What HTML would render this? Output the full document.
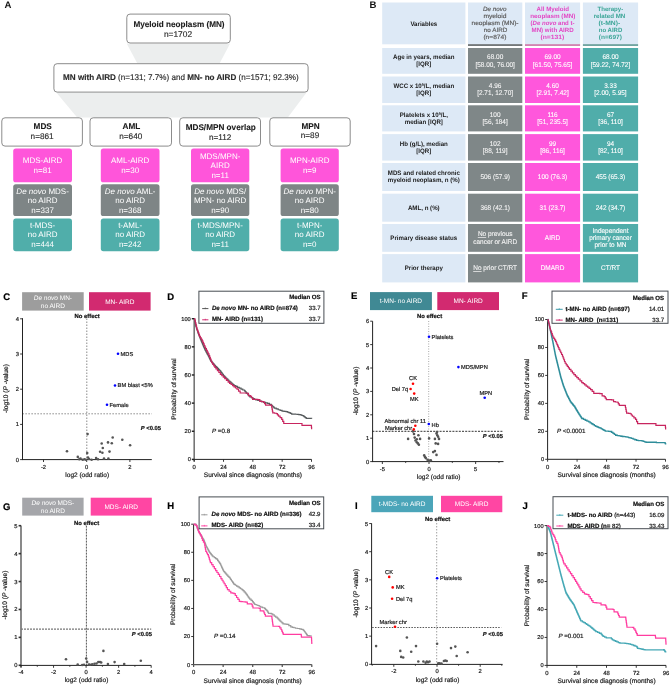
<!DOCTYPE html>
<html><head><meta charset="utf-8"><style>
html,body{margin:0;padding:0;background:#fff;}
body{width:670px;height:685px;overflow:hidden;position:relative;font-family:"Liberation Sans", sans-serif;}
svg{position:absolute;left:0;top:0;will-change:transform;}
svg text{font-family:"Liberation Sans", sans-serif;text-rendering:geometricPrecision;}
</style></head><body>
<svg width="670" height="685" viewBox="0 0 670 685">
<text x="4.40" y="7.50" font-size="9.6" text-anchor="start" font-weight="bold" font-style="normal" fill="#111" >A</text>
<polygon points="126.7,43.4 230.1,43.4 219.7,63.2 137.2,63.2" fill="#eceeee"/>
<polygon points="56.3,92.5 306.6,92.5 287.8,117.4 77.2,117.4" fill="#eceeee"/>
<rect x="126.80" y="14.10" width="103.50" height="28.90" rx="3.2" fill="#fff" stroke="#8c8c8c" stroke-width="1"/>
<text x="133.40" y="27.40" font-size="8.3" text-anchor="start" font-weight="bold" font-style="normal" fill="#1a1a1a" textLength="91.20" lengthAdjust="spacingAndGlyphs" stroke="#1a1a1a" stroke-width="0.1" >Myeloid neoplasm (MN)</text>
<text x="163.90" y="36.90" font-size="8.3" text-anchor="start" font-weight="normal" font-style="normal" fill="#2a2a2a" textLength="28.20" lengthAdjust="spacingAndGlyphs" stroke="#2a2a2a" stroke-width="0.15" >n=1702</text>
<rect x="53.90" y="63.70" width="254.20" height="28.40" rx="3.2" fill="#fff" stroke="#8c8c8c" stroke-width="1"/>
<text x="63.10" y="79.60" font-size="8.3" text-anchor="start" font-weight="normal" font-style="normal" fill="#2a2a2a" textLength="235.50" lengthAdjust="spacingAndGlyphs" stroke="#2a2a2a" stroke-width="0.15" ><tspan font-weight="bold">MN with AIRD</tspan> (n=131; 7.7%) and <tspan font-weight="bold">MN- no AIRD</tspan> (n=1571; 92.3%)</text>
<rect x="1.80" y="117.80" width="80.60" height="28.30" rx="3.2" fill="#fff" stroke="#8c8c8c" stroke-width="1"/>
<text x="42.70" y="128.70" font-size="8.2" text-anchor="middle" font-weight="bold" font-style="normal" fill="#1a1a1a" stroke="#1a1a1a" stroke-width="0.1" >MDS</text>
<text x="42.10" y="138.50" font-size="8.2" text-anchor="middle" font-weight="normal" font-style="normal" fill="#2a2a2a" stroke="#2a2a2a" stroke-width="0.15" >n=861</text>
<rect x="90.00" y="117.80" width="81.50" height="28.30" rx="3.2" fill="#fff" stroke="#8c8c8c" stroke-width="1"/>
<text x="131.35" y="129.30" font-size="8.2" text-anchor="middle" font-weight="bold" font-style="normal" fill="#1a1a1a" stroke="#1a1a1a" stroke-width="0.1" >AML</text>
<text x="130.75" y="139.20" font-size="8.2" text-anchor="middle" font-weight="normal" font-style="normal" fill="#2a2a2a" stroke="#2a2a2a" stroke-width="0.15" >n=640</text>
<rect x="179.70" y="117.80" width="80.80" height="28.30" rx="3.2" fill="#fff" stroke="#8c8c8c" stroke-width="1"/>
<text x="220.70" y="130.30" font-size="8.2" text-anchor="middle" font-weight="bold" font-style="normal" fill="#1a1a1a" stroke="#1a1a1a" stroke-width="0.1" >MDS/MPN overlap</text>
<text x="220.10" y="140.20" font-size="8.2" text-anchor="middle" font-weight="normal" font-style="normal" fill="#2a2a2a" stroke="#2a2a2a" stroke-width="0.15" >n=112</text>
<rect x="269.80" y="117.80" width="80.40" height="28.30" rx="3.2" fill="#fff" stroke="#8c8c8c" stroke-width="1"/>
<text x="310.60" y="128.70" font-size="8.2" text-anchor="middle" font-weight="bold" font-style="normal" fill="#1a1a1a" stroke="#1a1a1a" stroke-width="0.1" >MPN</text>
<text x="310.00" y="138.30" font-size="8.2" text-anchor="middle" font-weight="normal" font-style="normal" fill="#2a2a2a" stroke="#2a2a2a" stroke-width="0.15" >n=89</text>
<rect x="13.20" y="148.50" width="58.80" height="33.80" rx="2.6" fill="#ff55da"/>
<text x="42.60" y="163.30" font-size="8" text-anchor="middle" font-weight="normal" font-style="normal" fill="#fff" >MDS-AIRD</text>
<text x="42.60" y="173.00" font-size="8" text-anchor="middle" font-weight="normal" font-style="normal" fill="#fff" >n=81</text>
<rect x="13.20" y="184.20" width="58.80" height="31.90" rx="2.6" fill="#7e8586"/>
<text x="42.60" y="193.85" font-size="8" text-anchor="middle" font-weight="normal" font-style="normal" fill="#fff" ><tspan font-style="italic">De novo</tspan> MDS-</text>
<text x="42.60" y="203.30" font-size="8" text-anchor="middle" font-weight="normal" font-style="normal" fill="#fff" >no AIRD</text>
<text x="42.60" y="212.75" font-size="8" text-anchor="middle" font-weight="normal" font-style="normal" fill="#fff" >n=337</text>
<rect x="13.20" y="218.60" width="58.80" height="32.60" rx="2.6" fill="#50aeaa"/>
<text x="42.60" y="228.00" font-size="8" text-anchor="middle" font-weight="normal" font-style="normal" fill="#fff" >t-MDS-</text>
<text x="42.60" y="237.45" font-size="8" text-anchor="middle" font-weight="normal" font-style="normal" fill="#fff" >no AIRD</text>
<text x="42.60" y="246.90" font-size="8" text-anchor="middle" font-weight="normal" font-style="normal" fill="#fff" >n=444</text>
<rect x="100.80" y="148.50" width="58.70" height="33.80" rx="2.6" fill="#ff55da"/>
<text x="130.15" y="163.30" font-size="8" text-anchor="middle" font-weight="normal" font-style="normal" fill="#fff" >AML-AIRD</text>
<text x="130.15" y="173.00" font-size="8" text-anchor="middle" font-weight="normal" font-style="normal" fill="#fff" >n=30</text>
<rect x="100.80" y="184.20" width="58.70" height="31.90" rx="2.6" fill="#7e8586"/>
<text x="130.15" y="193.85" font-size="8" text-anchor="middle" font-weight="normal" font-style="normal" fill="#fff" ><tspan font-style="italic">De novo</tspan> AML-</text>
<text x="130.15" y="203.30" font-size="8" text-anchor="middle" font-weight="normal" font-style="normal" fill="#fff" >no AIRD</text>
<text x="130.15" y="212.75" font-size="8" text-anchor="middle" font-weight="normal" font-style="normal" fill="#fff" >n=368</text>
<rect x="100.80" y="218.60" width="58.70" height="32.60" rx="2.6" fill="#50aeaa"/>
<text x="130.15" y="228.00" font-size="8" text-anchor="middle" font-weight="normal" font-style="normal" fill="#fff" >t-AML-</text>
<text x="130.15" y="237.45" font-size="8" text-anchor="middle" font-weight="normal" font-style="normal" fill="#fff" >no AIRD</text>
<text x="130.15" y="246.90" font-size="8" text-anchor="middle" font-weight="normal" font-style="normal" fill="#fff" >n=242</text>
<rect x="191.00" y="148.50" width="58.30" height="33.80" rx="2.6" fill="#ff55da"/>
<text x="220.15" y="158.70" font-size="8" text-anchor="middle" font-weight="normal" font-style="normal" fill="#fff" >MDS/MPN-</text>
<text x="220.15" y="168.15" font-size="8" text-anchor="middle" font-weight="normal" font-style="normal" fill="#fff" >AIRD</text>
<text x="220.15" y="177.60" font-size="8" text-anchor="middle" font-weight="normal" font-style="normal" fill="#fff" >n=11</text>
<rect x="191.00" y="184.20" width="58.30" height="31.90" rx="2.6" fill="#7e8586"/>
<text x="220.15" y="193.85" font-size="8" text-anchor="middle" font-weight="normal" font-style="normal" fill="#fff" ><tspan font-style="italic">De novo</tspan> MDS/</text>
<text x="220.15" y="203.30" font-size="8" text-anchor="middle" font-weight="normal" font-style="normal" fill="#fff" >MPN- no AIRD</text>
<text x="220.15" y="212.75" font-size="8" text-anchor="middle" font-weight="normal" font-style="normal" fill="#fff" >n=90</text>
<rect x="191.00" y="218.60" width="58.30" height="32.60" rx="2.6" fill="#50aeaa"/>
<text x="220.15" y="228.00" font-size="8" text-anchor="middle" font-weight="normal" font-style="normal" fill="#fff" >t-MDS/MPN-</text>
<text x="220.15" y="237.45" font-size="8" text-anchor="middle" font-weight="normal" font-style="normal" fill="#fff" >no AIRD</text>
<text x="220.15" y="246.90" font-size="8" text-anchor="middle" font-weight="normal" font-style="normal" fill="#fff" >n=11</text>
<rect x="280.60" y="148.50" width="58.20" height="33.80" rx="2.6" fill="#ff55da"/>
<text x="309.70" y="163.30" font-size="8" text-anchor="middle" font-weight="normal" font-style="normal" fill="#fff" >MPN-AIRD</text>
<text x="309.70" y="173.00" font-size="8" text-anchor="middle" font-weight="normal" font-style="normal" fill="#fff" >n=9</text>
<rect x="280.60" y="184.20" width="58.20" height="31.90" rx="2.6" fill="#7e8586"/>
<text x="309.70" y="193.85" font-size="8" text-anchor="middle" font-weight="normal" font-style="normal" fill="#fff" ><tspan font-style="italic">De novo</tspan> MPN-</text>
<text x="309.70" y="203.30" font-size="8" text-anchor="middle" font-weight="normal" font-style="normal" fill="#fff" >no AIRD</text>
<text x="309.70" y="212.75" font-size="8" text-anchor="middle" font-weight="normal" font-style="normal" fill="#fff" >n=80</text>
<rect x="280.60" y="218.60" width="58.20" height="32.60" rx="2.6" fill="#50aeaa"/>
<text x="309.70" y="228.00" font-size="8" text-anchor="middle" font-weight="normal" font-style="normal" fill="#fff" >t-MPN-</text>
<text x="309.70" y="237.45" font-size="8" text-anchor="middle" font-weight="normal" font-style="normal" fill="#fff" >no AIRD</text>
<text x="309.70" y="246.90" font-size="8" text-anchor="middle" font-weight="normal" font-style="normal" fill="#fff" >n=0</text>
<text x="369.60" y="7.90" font-size="9.6" text-anchor="start" font-weight="bold" font-style="normal" fill="#111" >B</text>
<rect x="382.20" y="2.50" width="83.20" height="41.80" rx="0" fill="#dde9f6"/>
<rect x="468.00" y="2.50" width="54.30" height="41.80" rx="0" fill="#dde9f6"/>
<rect x="525.00" y="2.50" width="55.10" height="41.80" rx="0" fill="#dde9f6"/>
<rect x="582.90" y="2.50" width="55.20" height="41.80" rx="0" fill="#dde9f6"/>
<rect x="468.00" y="44.30" width="54.30" height="1.50" rx="0" fill="#52585a"/>
<rect x="525.00" y="44.30" width="55.10" height="1.50" rx="0" fill="#c6659f"/>
<rect x="582.90" y="44.30" width="55.20" height="1.50" rx="0" fill="#4f8f8a"/>
<text x="410.40" y="25.50" font-size="6.4" text-anchor="start" font-weight="bold" font-style="normal" fill="#1a1a1a" textLength="26.80" lengthAdjust="spacingAndGlyphs" >Variables</text>
<text x="483.00" y="10.60" font-size="6.1" text-anchor="start" font-weight="normal" font-style="normal" fill="#5e5e5e" textLength="23.50" lengthAdjust="spacingAndGlyphs" stroke="#5e5e5e" stroke-width="0.18" ><tspan font-style="italic">De novo</tspan></text>
<text x="483.40" y="17.75" font-size="6.1" text-anchor="start" font-weight="normal" font-style="normal" fill="#5e5e5e" textLength="23.10" lengthAdjust="spacingAndGlyphs" stroke="#5e5e5e" stroke-width="0.18" >myeloid</text>
<text x="471.50" y="24.90" font-size="6.1" text-anchor="start" font-weight="normal" font-style="normal" fill="#5e5e5e" textLength="47.00" lengthAdjust="spacingAndGlyphs" stroke="#5e5e5e" stroke-width="0.18" >neoplasm (MN)-</text>
<text x="483.80" y="32.05" font-size="6.1" text-anchor="start" font-weight="normal" font-style="normal" fill="#5e5e5e" textLength="23.50" lengthAdjust="spacingAndGlyphs" stroke="#5e5e5e" stroke-width="0.18" >no AIRD</text>
<text x="483.40" y="39.20" font-size="6.1" text-anchor="start" font-weight="normal" font-style="normal" fill="#5e5e5e" textLength="23.10" lengthAdjust="spacingAndGlyphs" stroke="#5e5e5e" stroke-width="0.18" >(n=874)</text>
<text x="536.60" y="10.60" font-size="6.1" text-anchor="start" font-weight="bold" font-style="normal" fill="#e345c4" textLength="32.40" lengthAdjust="spacingAndGlyphs" >All Myeloid</text>
<text x="530.20" y="17.75" font-size="6.1" text-anchor="start" font-weight="bold" font-style="normal" fill="#e345c4" textLength="45.20" lengthAdjust="spacingAndGlyphs" >neoplasm (MN)</text>
<text x="530.60" y="24.90" font-size="6.1" text-anchor="start" font-weight="bold" font-style="normal" fill="#e345c4" textLength="43.90" lengthAdjust="spacingAndGlyphs" >(<tspan font-style="italic">De novo</tspan> and t-</text>
<text x="531.50" y="32.05" font-size="6.1" text-anchor="start" font-weight="bold" font-style="normal" fill="#e345c4" textLength="42.20" lengthAdjust="spacingAndGlyphs" >MN) with AIRD</text>
<text x="540.40" y="39.20" font-size="6.1" text-anchor="start" font-weight="bold" font-style="normal" fill="#e345c4" textLength="23.90" lengthAdjust="spacingAndGlyphs" >(n=131)</text>
<text x="597.50" y="10.60" font-size="6.1" text-anchor="start" font-weight="bold" font-style="normal" fill="#3ba597" textLength="25.70" lengthAdjust="spacingAndGlyphs" >Therapy-</text>
<text x="593.70" y="17.75" font-size="6.1" text-anchor="start" font-weight="bold" font-style="normal" fill="#3ba597" textLength="31.60" lengthAdjust="spacingAndGlyphs" >related MN</text>
<text x="598.40" y="24.90" font-size="6.1" text-anchor="start" font-weight="bold" font-style="normal" fill="#3ba597" textLength="21.80" lengthAdjust="spacingAndGlyphs" >(t-MN)-</text>
<text x="598.80" y="32.05" font-size="6.1" text-anchor="start" font-weight="bold" font-style="normal" fill="#3ba597" textLength="23.50" lengthAdjust="spacingAndGlyphs" >no AIRD</text>
<text x="598.80" y="39.20" font-size="6.1" text-anchor="start" font-weight="bold" font-style="normal" fill="#3ba597" textLength="23.10" lengthAdjust="spacingAndGlyphs" >(n=697)</text>
<rect x="382.20" y="48.00" width="83.20" height="25.80" rx="0" fill="#dde9f6"/>
<rect x="468.00" y="48.00" width="54.30" height="25.80" rx="0" fill="#7f8788"/>
<rect x="525.00" y="48.00" width="55.10" height="25.80" rx="0" fill="#ff57dc"/>
<rect x="582.90" y="48.00" width="55.20" height="25.80" rx="0" fill="#50adaa"/>
<text x="423.80" y="59.30" font-size="6.4" text-anchor="middle" font-weight="bold" font-style="normal" fill="#1a1a1a" textLength="61.46" lengthAdjust="spacingAndGlyphs" >Age in years, median</text>
<text x="423.80" y="66.30" font-size="6.4" text-anchor="middle" font-weight="bold" font-style="normal" fill="#1a1a1a" textLength="15.02" lengthAdjust="spacingAndGlyphs" >[IQR]</text>
<text x="495.15" y="59.24" font-size="6.8" text-anchor="middle" font-weight="normal" font-style="normal" fill="#f4f4f4" textLength="16.17" lengthAdjust="spacingAndGlyphs" stroke="#f4f4f4" stroke-width="0.1" >68.00</text>
<text x="495.15" y="66.64" font-size="6.8" text-anchor="middle" font-weight="normal" font-style="normal" fill="#f4f4f4" textLength="39.51" lengthAdjust="spacingAndGlyphs" stroke="#f4f4f4" stroke-width="0.1" >[58.00, 76.00]</text>
<text x="552.55" y="59.24" font-size="6.8" text-anchor="middle" font-weight="normal" font-style="normal" fill="#ffffff" textLength="16.17" lengthAdjust="spacingAndGlyphs" stroke="#ffffff" stroke-width="0.1" >69.00</text>
<text x="552.55" y="66.64" font-size="6.8" text-anchor="middle" font-weight="normal" font-style="normal" fill="#ffffff" textLength="39.51" lengthAdjust="spacingAndGlyphs" stroke="#ffffff" stroke-width="0.1" >[61.50, 75.65]</text>
<text x="610.50" y="59.24" font-size="6.8" text-anchor="middle" font-weight="normal" font-style="normal" fill="#ffffff" textLength="16.17" lengthAdjust="spacingAndGlyphs" stroke="#ffffff" stroke-width="0.1" >68.00</text>
<text x="610.50" y="66.64" font-size="6.8" text-anchor="middle" font-weight="normal" font-style="normal" fill="#ffffff" textLength="39.51" lengthAdjust="spacingAndGlyphs" stroke="#ffffff" stroke-width="0.1" >[59.22, 74.72]</text>
<rect x="382.20" y="76.50" width="83.20" height="26.50" rx="0" fill="#dde9f6"/>
<rect x="468.00" y="76.50" width="54.30" height="26.50" rx="0" fill="#7f8788"/>
<rect x="525.00" y="76.50" width="55.10" height="26.50" rx="0" fill="#ff57dc"/>
<rect x="582.90" y="76.50" width="55.20" height="26.50" rx="0" fill="#50adaa"/>
<text x="423.80" y="88.15" font-size="6.4" text-anchor="middle" font-weight="bold" font-style="normal" fill="#1a1a1a" textLength="60.75" lengthAdjust="spacingAndGlyphs" >WCC x 10<tspan font-size="3.8" dy="-2.2">9</tspan><tspan dy="2.2">/L, median</tspan></text>
<text x="423.80" y="95.15" font-size="6.4" text-anchor="middle" font-weight="bold" font-style="normal" fill="#1a1a1a" textLength="15.02" lengthAdjust="spacingAndGlyphs" >[IQR]</text>
<text x="495.15" y="88.09" font-size="6.8" text-anchor="middle" font-weight="normal" font-style="normal" fill="#f4f4f4" textLength="12.57" lengthAdjust="spacingAndGlyphs" stroke="#f4f4f4" stroke-width="0.1" >4.96</text>
<text x="495.15" y="95.49" font-size="6.8" text-anchor="middle" font-weight="normal" font-style="normal" fill="#f4f4f4" textLength="35.92" lengthAdjust="spacingAndGlyphs" stroke="#f4f4f4" stroke-width="0.1" >[2.71, 12.70]</text>
<text x="552.55" y="88.09" font-size="6.8" text-anchor="middle" font-weight="normal" font-style="normal" fill="#ffffff" textLength="12.57" lengthAdjust="spacingAndGlyphs" stroke="#ffffff" stroke-width="0.1" >4.60</text>
<text x="552.55" y="95.49" font-size="6.8" text-anchor="middle" font-weight="normal" font-style="normal" fill="#ffffff" textLength="32.33" lengthAdjust="spacingAndGlyphs" stroke="#ffffff" stroke-width="0.1" >[2.91, 7.42]</text>
<text x="610.50" y="88.09" font-size="6.8" text-anchor="middle" font-weight="normal" font-style="normal" fill="#ffffff" textLength="12.57" lengthAdjust="spacingAndGlyphs" stroke="#ffffff" stroke-width="0.1" >3.33</text>
<text x="610.50" y="95.49" font-size="6.8" text-anchor="middle" font-weight="normal" font-style="normal" fill="#ffffff" textLength="32.33" lengthAdjust="spacingAndGlyphs" stroke="#ffffff" stroke-width="0.1" >[2.00, 5.95]</text>
<rect x="382.20" y="105.30" width="83.20" height="26.10" rx="0" fill="#dde9f6"/>
<rect x="468.00" y="105.30" width="54.30" height="26.10" rx="0" fill="#7f8788"/>
<rect x="525.00" y="105.30" width="55.10" height="26.10" rx="0" fill="#ff57dc"/>
<rect x="582.90" y="105.30" width="55.20" height="26.10" rx="0" fill="#50adaa"/>
<text x="423.80" y="116.75" font-size="6.4" text-anchor="middle" font-weight="bold" font-style="normal" fill="#1a1a1a" textLength="48.13" lengthAdjust="spacingAndGlyphs" >Platelets x 10<tspan font-size="3.8" dy="-2.2">9</tspan><tspan dy="2.2">/L,</tspan></text>
<text x="423.80" y="123.75" font-size="6.4" text-anchor="middle" font-weight="bold" font-style="normal" fill="#1a1a1a" textLength="38.23" lengthAdjust="spacingAndGlyphs" >median [IQR]</text>
<text x="495.15" y="116.69" font-size="6.8" text-anchor="middle" font-weight="normal" font-style="normal" fill="#f4f4f4" textLength="10.78" lengthAdjust="spacingAndGlyphs" stroke="#f4f4f4" stroke-width="0.1" >100</text>
<text x="495.15" y="124.09" font-size="6.8" text-anchor="middle" font-weight="normal" font-style="normal" fill="#f4f4f4" textLength="25.14" lengthAdjust="spacingAndGlyphs" stroke="#f4f4f4" stroke-width="0.1" >[56, 184]</text>
<text x="552.55" y="116.69" font-size="6.8" text-anchor="middle" font-weight="normal" font-style="normal" fill="#ffffff" textLength="10.30" lengthAdjust="spacingAndGlyphs" stroke="#ffffff" stroke-width="0.1" >116</text>
<text x="552.55" y="124.09" font-size="6.8" text-anchor="middle" font-weight="normal" font-style="normal" fill="#ffffff" textLength="30.53" lengthAdjust="spacingAndGlyphs" stroke="#ffffff" stroke-width="0.1" >[51, 235.5]</text>
<text x="610.50" y="116.69" font-size="6.8" text-anchor="middle" font-weight="normal" font-style="normal" fill="#ffffff" textLength="7.19" lengthAdjust="spacingAndGlyphs" stroke="#ffffff" stroke-width="0.1" >67</text>
<text x="610.50" y="124.09" font-size="6.8" text-anchor="middle" font-weight="normal" font-style="normal" fill="#ffffff" textLength="24.66" lengthAdjust="spacingAndGlyphs" stroke="#ffffff" stroke-width="0.1" >[36, 110]</text>
<rect x="382.20" y="134.10" width="83.20" height="26.50" rx="0" fill="#dde9f6"/>
<rect x="468.00" y="134.10" width="54.30" height="26.50" rx="0" fill="#7f8788"/>
<rect x="525.00" y="134.10" width="55.10" height="26.50" rx="0" fill="#ff57dc"/>
<rect x="582.90" y="134.10" width="55.20" height="26.50" rx="0" fill="#50adaa"/>
<text x="423.80" y="145.75" font-size="6.4" text-anchor="middle" font-weight="bold" font-style="normal" fill="#1a1a1a" textLength="48.13" lengthAdjust="spacingAndGlyphs" >Hb (g/L), median</text>
<text x="423.80" y="152.75" font-size="6.4" text-anchor="middle" font-weight="bold" font-style="normal" fill="#1a1a1a" textLength="15.02" lengthAdjust="spacingAndGlyphs" >[IQR]</text>
<text x="495.15" y="145.69" font-size="6.8" text-anchor="middle" font-weight="normal" font-style="normal" fill="#f4f4f4" textLength="10.78" lengthAdjust="spacingAndGlyphs" stroke="#f4f4f4" stroke-width="0.1" >102</text>
<text x="495.15" y="153.09" font-size="6.8" text-anchor="middle" font-weight="normal" font-style="normal" fill="#f4f4f4" textLength="24.66" lengthAdjust="spacingAndGlyphs" stroke="#f4f4f4" stroke-width="0.1" >[88, 119]</text>
<text x="552.55" y="145.69" font-size="6.8" text-anchor="middle" font-weight="normal" font-style="normal" fill="#ffffff" textLength="7.19" lengthAdjust="spacingAndGlyphs" stroke="#ffffff" stroke-width="0.1" >99</text>
<text x="552.55" y="153.09" font-size="6.8" text-anchor="middle" font-weight="normal" font-style="normal" fill="#ffffff" textLength="24.66" lengthAdjust="spacingAndGlyphs" stroke="#ffffff" stroke-width="0.1" >[86, 116]</text>
<text x="610.50" y="145.69" font-size="6.8" text-anchor="middle" font-weight="normal" font-style="normal" fill="#ffffff" textLength="7.19" lengthAdjust="spacingAndGlyphs" stroke="#ffffff" stroke-width="0.1" >94</text>
<text x="610.50" y="153.09" font-size="6.8" text-anchor="middle" font-weight="normal" font-style="normal" fill="#ffffff" textLength="24.66" lengthAdjust="spacingAndGlyphs" stroke="#ffffff" stroke-width="0.1" >[82, 110]</text>
<rect x="382.20" y="163.00" width="83.20" height="28.00" rx="0" fill="#dde9f6"/>
<rect x="468.00" y="163.00" width="54.30" height="28.00" rx="0" fill="#7f8788"/>
<rect x="525.00" y="163.00" width="55.10" height="28.00" rx="0" fill="#ff57dc"/>
<rect x="582.90" y="163.00" width="55.20" height="28.00" rx="0" fill="#50adaa"/>
<text x="423.80" y="175.40" font-size="6.4" text-anchor="middle" font-weight="bold" font-style="normal" fill="#1a1a1a" textLength="72.04" lengthAdjust="spacingAndGlyphs" >MDS and related chronic</text>
<text x="423.80" y="182.40" font-size="6.4" text-anchor="middle" font-weight="bold" font-style="normal" fill="#1a1a1a" textLength="72.03" lengthAdjust="spacingAndGlyphs" >myeloid neoplasm, n (%)</text>
<text x="495.15" y="179.04" font-size="6.8" text-anchor="middle" font-weight="normal" font-style="normal" fill="#f4f4f4" textLength="29.45" lengthAdjust="spacingAndGlyphs" stroke="#f4f4f4" stroke-width="0.1" >506 (57.9)</text>
<text x="552.55" y="179.04" font-size="6.8" text-anchor="middle" font-weight="normal" font-style="normal" fill="#ffffff" textLength="29.45" lengthAdjust="spacingAndGlyphs" stroke="#ffffff" stroke-width="0.1" >100 (76.3)</text>
<text x="610.50" y="179.04" font-size="6.8" text-anchor="middle" font-weight="normal" font-style="normal" fill="#ffffff" textLength="29.45" lengthAdjust="spacingAndGlyphs" stroke="#ffffff" stroke-width="0.1" >455 (65.3)</text>
<rect x="382.20" y="193.70" width="83.20" height="28.00" rx="0" fill="#dde9f6"/>
<rect x="468.00" y="193.70" width="54.30" height="28.00" rx="0" fill="#7f8788"/>
<rect x="525.00" y="193.70" width="55.10" height="28.00" rx="0" fill="#ff57dc"/>
<rect x="582.90" y="193.70" width="55.20" height="28.00" rx="0" fill="#50adaa"/>
<text x="423.80" y="209.60" font-size="6.4" text-anchor="middle" font-weight="bold" font-style="normal" fill="#1a1a1a" textLength="31.74" lengthAdjust="spacingAndGlyphs" >AML, n (%)</text>
<text x="495.15" y="209.74" font-size="6.8" text-anchor="middle" font-weight="normal" font-style="normal" fill="#f4f4f4" textLength="29.45" lengthAdjust="spacingAndGlyphs" stroke="#f4f4f4" stroke-width="0.1" >368 (42.1)</text>
<text x="552.55" y="209.74" font-size="6.8" text-anchor="middle" font-weight="normal" font-style="normal" fill="#ffffff" textLength="25.86" lengthAdjust="spacingAndGlyphs" stroke="#ffffff" stroke-width="0.1" >31 (23.7)</text>
<text x="610.50" y="209.74" font-size="6.8" text-anchor="middle" font-weight="normal" font-style="normal" fill="#ffffff" textLength="29.45" lengthAdjust="spacingAndGlyphs" stroke="#ffffff" stroke-width="0.1" >242 (34.7)</text>
<rect x="382.20" y="224.00" width="83.20" height="27.80" rx="0" fill="#dde9f6"/>
<rect x="468.00" y="224.00" width="54.30" height="27.80" rx="0" fill="#7f8788"/>
<rect x="525.00" y="224.00" width="55.10" height="27.80" rx="0" fill="#ff57dc"/>
<rect x="582.90" y="224.00" width="55.20" height="27.80" rx="0" fill="#50adaa"/>
<text x="423.80" y="239.80" font-size="6.4" text-anchor="middle" font-weight="bold" font-style="normal" fill="#1a1a1a" textLength="66.94" lengthAdjust="spacingAndGlyphs" >Primary disease status</text>
<text x="495.15" y="236.24" font-size="6.8" text-anchor="middle" font-weight="normal" font-style="normal" fill="#f4f4f4" textLength="34.47" lengthAdjust="spacingAndGlyphs" stroke="#f4f4f4" stroke-width="0.1" ><tspan text-decoration="underline">No</tspan> previous</text>
<text x="495.15" y="243.64" font-size="6.8" text-anchor="middle" font-weight="normal" font-style="normal" fill="#f4f4f4" textLength="43.80" lengthAdjust="spacingAndGlyphs" stroke="#f4f4f4" stroke-width="0.1" >cancer or AIRD</text>
<text x="552.55" y="239.94" font-size="6.8" text-anchor="middle" font-weight="normal" font-style="normal" fill="#ffffff" textLength="15.43" lengthAdjust="spacingAndGlyphs" stroke="#ffffff" stroke-width="0.1" >AIRD</text>
<text x="610.50" y="232.84" font-size="6.8" text-anchor="middle" font-weight="normal" font-style="normal" fill="#ffffff" textLength="35.93" lengthAdjust="spacingAndGlyphs" stroke="#ffffff" stroke-width="0.1" >Independent</text>
<text x="610.50" y="239.94" font-size="6.8" text-anchor="middle" font-weight="normal" font-style="normal" fill="#ffffff" textLength="42.72" lengthAdjust="spacingAndGlyphs" stroke="#ffffff" stroke-width="0.1" >primary cancer</text>
<text x="610.50" y="247.04" font-size="6.8" text-anchor="middle" font-weight="normal" font-style="normal" fill="#ffffff" textLength="31.95" lengthAdjust="spacingAndGlyphs" stroke="#ffffff" stroke-width="0.1" >prior to MN</text>
<rect x="382.20" y="254.10" width="83.20" height="28.30" rx="0" fill="#dde9f6"/>
<rect x="468.00" y="254.10" width="54.30" height="28.30" rx="0" fill="#7f8788"/>
<rect x="525.00" y="254.10" width="55.10" height="28.30" rx="0" fill="#ff57dc"/>
<rect x="582.90" y="254.10" width="55.20" height="28.30" rx="0" fill="#50adaa"/>
<text x="423.80" y="270.15" font-size="6.4" text-anchor="middle" font-weight="bold" font-style="normal" fill="#1a1a1a" textLength="38.24" lengthAdjust="spacingAndGlyphs" >Prior therapy</text>
<text x="495.15" y="270.29" font-size="6.8" text-anchor="middle" font-weight="normal" font-style="normal" fill="#f4f4f4" textLength="43.67" lengthAdjust="spacingAndGlyphs" stroke="#f4f4f4" stroke-width="0.1" ><tspan text-decoration="underline">No</tspan> prior CT/RT</text>
<text x="552.55" y="270.29" font-size="6.8" text-anchor="middle" font-weight="normal" font-style="normal" fill="#ffffff" textLength="23.69" lengthAdjust="spacingAndGlyphs" stroke="#ffffff" stroke-width="0.1" >DMARD</text>
<text x="610.50" y="270.29" font-size="6.8" text-anchor="middle" font-weight="normal" font-style="normal" fill="#ffffff" textLength="18.90" lengthAdjust="spacingAndGlyphs" stroke="#ffffff" stroke-width="0.1" >CT/RT</text>
<text x="3.20" y="299.67" font-size="9.5" text-anchor="start" font-weight="bold" font-style="normal" fill="#000" stroke="#000" stroke-width="0.2" >C</text>
<rect x="22.10" y="292.20" width="61.60" height="18.40" rx="0" fill="#9d9d9d"/>
<text x="52.90" y="299.69" font-size="6.5" text-anchor="middle" font-weight="normal" font-style="normal" fill="#fff" ><tspan font-style="italic">De novo</tspan> MN-</text>
<text x="52.90" y="307.59" font-size="6.5" text-anchor="middle" font-weight="normal" font-style="normal" fill="#fff" >no AIRD</text>
<rect x="89.00" y="292.20" width="61.60" height="18.40" rx="0" fill="#d22a70"/>
<text x="119.80" y="303.64" font-size="6.5" text-anchor="middle" font-weight="normal" font-style="normal" fill="#fff" >MN- AIRD</text>
<text x="87.20" y="317.83" font-size="5.9" text-anchor="middle" font-weight="bold" font-style="normal" fill="#111" stroke="#111" stroke-width="0.2" >No effect</text>
<line x1="86.80" y1="318.50" x2="86.80" y2="459.70" stroke="#8a8a8a" stroke-width="1" stroke-dasharray="1.5,1.5"/>
<line x1="22.40" y1="413.80" x2="151.80" y2="413.80" stroke="#8a8a8a" stroke-width="1" stroke-dasharray="1.5,1.5"/>
<line x1="22.50" y1="318.20" x2="22.50" y2="460.00" stroke="#222" stroke-width="1"/>
<line x1="20.10" y1="459.60" x2="22.50" y2="459.60" stroke="#222" stroke-width="0.9"/>
<text x="19.10" y="461.60" font-size="5.8" text-anchor="end" font-weight="normal" font-style="normal" fill="#222" stroke="#222" stroke-width="0.2" >0</text>
<line x1="20.10" y1="424.40" x2="22.50" y2="424.40" stroke="#222" stroke-width="0.9"/>
<text x="19.10" y="426.40" font-size="5.8" text-anchor="end" font-weight="normal" font-style="normal" fill="#222" stroke="#222" stroke-width="0.2" >1</text>
<line x1="20.10" y1="389.20" x2="22.50" y2="389.20" stroke="#222" stroke-width="0.9"/>
<text x="19.10" y="391.20" font-size="5.8" text-anchor="end" font-weight="normal" font-style="normal" fill="#222" stroke="#222" stroke-width="0.2" >2</text>
<line x1="20.10" y1="354.00" x2="22.50" y2="354.00" stroke="#222" stroke-width="0.9"/>
<text x="19.10" y="356.00" font-size="5.8" text-anchor="end" font-weight="normal" font-style="normal" fill="#222" stroke="#222" stroke-width="0.2" >3</text>
<line x1="20.10" y1="318.80" x2="22.50" y2="318.80" stroke="#222" stroke-width="0.9"/>
<text x="19.10" y="320.80" font-size="5.8" text-anchor="end" font-weight="normal" font-style="normal" fill="#222" stroke="#222" stroke-width="0.2" >4</text>
<line x1="22.00" y1="459.60" x2="151.80" y2="459.60" stroke="#222" stroke-width="1"/>
<line x1="43.50" y1="459.60" x2="43.50" y2="462.00" stroke="#222" stroke-width="0.9"/>
<text x="43.50" y="468.90" font-size="5.8" text-anchor="middle" font-weight="normal" font-style="normal" fill="#222" stroke="#222" stroke-width="0.2" >-2</text>
<line x1="86.70" y1="459.60" x2="86.70" y2="462.00" stroke="#222" stroke-width="0.9"/>
<text x="86.70" y="468.90" font-size="5.8" text-anchor="middle" font-weight="normal" font-style="normal" fill="#222" stroke="#222" stroke-width="0.2" >0</text>
<line x1="129.90" y1="459.60" x2="129.90" y2="462.00" stroke="#222" stroke-width="0.9"/>
<text x="129.90" y="468.90" font-size="5.8" text-anchor="middle" font-weight="normal" font-style="normal" fill="#222" stroke="#222" stroke-width="0.2" >2</text>
<text x="87.20" y="476.84" font-size="6.5" text-anchor="middle" font-weight="normal" font-style="normal" fill="#222" stroke="#222" stroke-width="0.2" >log2 (odd ratio)</text>
<text x="5.75" y="390.81" font-size="6.6" text-anchor="middle" fill="#222" stroke="#222" stroke-width="0.2" transform="rotate(-90 5.75 388.50)">-log10 (<tspan font-style="italic">P</tspan> -value)</text>
<text x="161.00" y="430.40" font-size="5.8" text-anchor="end" font-weight="bold" font-style="normal" fill="#111" stroke="#111" stroke-width="0.2" ><tspan font-style="italic">P</tspan> &lt;0.05</text>
<circle cx="67.00" cy="451.30" r="1.3" fill="#555555"/>
<circle cx="87.60" cy="434.10" r="1.3" fill="#555555"/>
<circle cx="112.70" cy="437.50" r="1.3" fill="#555555"/>
<circle cx="122.30" cy="439.70" r="1.3" fill="#555555"/>
<circle cx="130.10" cy="445.30" r="1.3" fill="#555555"/>
<circle cx="101.70" cy="443.50" r="1.3" fill="#555555"/>
<circle cx="108.00" cy="442.40" r="1.3" fill="#555555"/>
<circle cx="111.80" cy="443.30" r="1.3" fill="#555555"/>
<circle cx="102.80" cy="448.00" r="1.3" fill="#555555"/>
<circle cx="100.10" cy="451.80" r="1.3" fill="#555555"/>
<circle cx="102.40" cy="452.70" r="1.3" fill="#555555"/>
<circle cx="109.50" cy="451.60" r="1.3" fill="#555555"/>
<circle cx="87.20" cy="453.10" r="1.3" fill="#555555"/>
<circle cx="77.80" cy="456.90" r="1.3" fill="#555555"/>
<circle cx="79.30" cy="459.20" r="1.3" fill="#555555"/>
<circle cx="82.70" cy="459.80" r="1.3" fill="#555555"/>
<circle cx="86.00" cy="459.80" r="1.3" fill="#555555"/>
<circle cx="91.60" cy="459.80" r="1.3" fill="#555555"/>
<circle cx="96.10" cy="458.00" r="1.3" fill="#555555"/>
<circle cx="104.00" cy="458.50" r="1.3" fill="#555555"/>
<circle cx="108.40" cy="458.50" r="1.3" fill="#555555"/>
<circle cx="84.50" cy="459.20" r="1.3" fill="#555555"/>
<circle cx="89.00" cy="459.00" r="1.3" fill="#555555"/>
<circle cx="98.00" cy="459.20" r="1.3" fill="#555555"/>
<circle cx="88.00" cy="457.50" r="1.3" fill="#555555"/>
<circle cx="80.50" cy="458.50" r="1.3" fill="#555555"/>
<circle cx="118.00" cy="353.70" r="1.3" fill="#0000ff"/>
<text x="120.60" y="355.66" font-size="5.7" text-anchor="start" font-weight="normal" font-style="normal" fill="#222" stroke="#222" stroke-width="0.2" >MDS</text>
<circle cx="115.00" cy="385.50" r="1.3" fill="#0000ff"/>
<text x="117.60" y="387.46" font-size="5.7" text-anchor="start" font-weight="normal" font-style="normal" fill="#222" stroke="#222" stroke-width="0.2" >BM blast &lt;5%</text>
<circle cx="107.00" cy="404.80" r="1.3" fill="#0000ff"/>
<text x="109.60" y="406.76" font-size="5.7" text-anchor="start" font-weight="normal" font-style="normal" fill="#222" stroke="#222" stroke-width="0.2" >Female</text>
<text x="350.90" y="299.47" font-size="9.5" text-anchor="start" font-weight="bold" font-style="normal" fill="#000" stroke="#000" stroke-width="0.2" >E</text>
<rect x="370.00" y="292.10" width="61.90" height="18.00" rx="0" fill="#408994"/>
<text x="400.95" y="303.34" font-size="6.5" text-anchor="middle" font-weight="normal" font-style="normal" fill="#fff" >t-MN- no AIRD</text>
<rect x="437.30" y="292.10" width="61.70" height="18.00" rx="0" fill="#d22a70"/>
<text x="468.15" y="303.34" font-size="6.5" text-anchor="middle" font-weight="normal" font-style="normal" fill="#fff" >MN- AIRD</text>
<text x="429.50" y="318.03" font-size="5.9" text-anchor="middle" font-weight="bold" font-style="normal" fill="#111" stroke="#111" stroke-width="0.2" >No effect</text>
<line x1="428.70" y1="321.00" x2="428.70" y2="461.60" stroke="#a0a0a0" stroke-width="0.9" stroke-dasharray="1,1.5"/>
<line x1="372.40" y1="431.30" x2="503.50" y2="431.30" stroke="#333" stroke-width="1" stroke-dasharray="2,1.2"/>
<line x1="372.60" y1="321.20" x2="372.60" y2="462.00" stroke="#222" stroke-width="1"/>
<line x1="370.20" y1="461.60" x2="372.60" y2="461.60" stroke="#222" stroke-width="0.9"/>
<text x="369.20" y="463.60" font-size="5.8" text-anchor="end" font-weight="normal" font-style="normal" fill="#222" stroke="#222" stroke-width="0.2" >0</text>
<line x1="370.20" y1="438.20" x2="372.60" y2="438.20" stroke="#222" stroke-width="0.9"/>
<text x="369.20" y="440.20" font-size="5.8" text-anchor="end" font-weight="normal" font-style="normal" fill="#222" stroke="#222" stroke-width="0.2" >1</text>
<line x1="370.20" y1="414.80" x2="372.60" y2="414.80" stroke="#222" stroke-width="0.9"/>
<text x="369.20" y="416.80" font-size="5.8" text-anchor="end" font-weight="normal" font-style="normal" fill="#222" stroke="#222" stroke-width="0.2" >2</text>
<line x1="370.20" y1="391.40" x2="372.60" y2="391.40" stroke="#222" stroke-width="0.9"/>
<text x="369.20" y="393.40" font-size="5.8" text-anchor="end" font-weight="normal" font-style="normal" fill="#222" stroke="#222" stroke-width="0.2" >3</text>
<line x1="370.20" y1="368.00" x2="372.60" y2="368.00" stroke="#222" stroke-width="0.9"/>
<text x="369.20" y="370.00" font-size="5.8" text-anchor="end" font-weight="normal" font-style="normal" fill="#222" stroke="#222" stroke-width="0.2" >4</text>
<line x1="370.20" y1="344.60" x2="372.60" y2="344.60" stroke="#222" stroke-width="0.9"/>
<text x="369.20" y="346.60" font-size="5.8" text-anchor="end" font-weight="normal" font-style="normal" fill="#222" stroke="#222" stroke-width="0.2" >5</text>
<line x1="370.20" y1="321.20" x2="372.60" y2="321.20" stroke="#222" stroke-width="0.9"/>
<text x="369.20" y="323.20" font-size="5.8" text-anchor="end" font-weight="normal" font-style="normal" fill="#222" stroke="#222" stroke-width="0.2" >6</text>
<line x1="372.10" y1="461.60" x2="503.50" y2="461.60" stroke="#222" stroke-width="1"/>
<line x1="382.35" y1="461.60" x2="382.35" y2="464.00" stroke="#222" stroke-width="0.9"/>
<text x="382.35" y="470.90" font-size="5.8" text-anchor="middle" font-weight="normal" font-style="normal" fill="#222" stroke="#222" stroke-width="0.2" >-5</text>
<line x1="429.00" y1="461.60" x2="429.00" y2="464.00" stroke="#222" stroke-width="0.9"/>
<text x="429.00" y="470.90" font-size="5.8" text-anchor="middle" font-weight="normal" font-style="normal" fill="#222" stroke="#222" stroke-width="0.2" >0</text>
<line x1="475.65" y1="461.60" x2="475.65" y2="464.00" stroke="#222" stroke-width="0.9"/>
<text x="475.65" y="470.90" font-size="5.8" text-anchor="middle" font-weight="normal" font-style="normal" fill="#222" stroke="#222" stroke-width="0.2" >5</text>
<line x1="405.68" y1="461.60" x2="405.68" y2="463.04" stroke="#222" stroke-width="0.8"/>
<line x1="452.32" y1="461.60" x2="452.32" y2="463.04" stroke="#222" stroke-width="0.8"/>
<line x1="498.98" y1="461.60" x2="498.98" y2="463.04" stroke="#222" stroke-width="0.8"/>
<text x="438.60" y="479.04" font-size="6.5" text-anchor="middle" font-weight="normal" font-style="normal" fill="#222" stroke="#222" stroke-width="0.2" >log2 (odd ratio)</text>
<text x="356.00" y="393.21" font-size="6.6" text-anchor="middle" fill="#222" stroke="#222" stroke-width="0.2" transform="rotate(-90 356.00 390.90)">-log10 (<tspan font-style="italic">P</tspan> -value)</text>
<text x="503.00" y="437.50" font-size="5.8" text-anchor="end" font-weight="bold" font-style="normal" fill="#111" stroke="#111" stroke-width="0.2" ><tspan font-style="italic">P</tspan> &lt;0.05</text>
<circle cx="413.00" cy="431.40" r="1.3" fill="#555555"/>
<circle cx="414.00" cy="434.00" r="1.3" fill="#555555"/>
<circle cx="418.40" cy="435.20" r="1.3" fill="#555555"/>
<circle cx="414.70" cy="437.60" r="1.3" fill="#555555"/>
<circle cx="416.80" cy="439.30" r="1.3" fill="#555555"/>
<circle cx="420.10" cy="438.90" r="1.3" fill="#555555"/>
<circle cx="408.10" cy="438.90" r="1.3" fill="#555555"/>
<circle cx="416.80" cy="442.20" r="1.3" fill="#555555"/>
<circle cx="417.90" cy="443.40" r="1.3" fill="#555555"/>
<circle cx="418.90" cy="444.70" r="1.3" fill="#555555"/>
<circle cx="429.10" cy="438.40" r="1.3" fill="#555555"/>
<circle cx="434.90" cy="438.90" r="1.3" fill="#555555"/>
<circle cx="436.50" cy="433.50" r="1.3" fill="#555555"/>
<circle cx="437.30" cy="435.20" r="1.3" fill="#555555"/>
<circle cx="438.10" cy="436.80" r="1.3" fill="#555555"/>
<circle cx="439.00" cy="438.90" r="1.3" fill="#555555"/>
<circle cx="435.70" cy="443.40" r="1.3" fill="#555555"/>
<circle cx="438.10" cy="443.90" r="1.3" fill="#555555"/>
<circle cx="433.20" cy="452.10" r="1.3" fill="#555555"/>
<circle cx="434.90" cy="451.10" r="1.3" fill="#555555"/>
<circle cx="436.50" cy="454.90" r="1.3" fill="#555555"/>
<circle cx="424.20" cy="455.40" r="1.3" fill="#555555"/>
<circle cx="425.00" cy="457.00" r="1.3" fill="#555555"/>
<circle cx="425.80" cy="458.10" r="1.3" fill="#555555"/>
<circle cx="427.50" cy="459.80" r="1.3" fill="#555555"/>
<circle cx="429.10" cy="460.60" r="1.3" fill="#555555"/>
<circle cx="430.80" cy="460.30" r="1.3" fill="#555555"/>
<circle cx="415.50" cy="440.50" r="1.3" fill="#555555"/>
<circle cx="437.00" cy="432.00" r="1.3" fill="#555555"/>
<circle cx="429.00" cy="336.80" r="1.3" fill="#0000ff"/>
<text x="431.60" y="338.76" font-size="5.7" text-anchor="start" font-weight="normal" font-style="normal" fill="#222" stroke="#222" stroke-width="0.2" >Platelets</text>
<circle cx="458.40" cy="367.10" r="1.3" fill="#0000ff"/>
<text x="460.90" y="369.06" font-size="5.7" text-anchor="start" font-weight="normal" font-style="normal" fill="#222" stroke="#222" stroke-width="0.2" >MDS/MPN</text>
<circle cx="484.70" cy="397.70" r="1.3" fill="#0000ff"/>
<text x="485.80" y="395.26" font-size="5.7" text-anchor="middle" font-weight="normal" font-style="normal" fill="#222" stroke="#222" stroke-width="0.2" >MPN</text>
<circle cx="428.80" cy="424.00" r="1.3" fill="#0000ff"/>
<text x="431.60" y="427.26" font-size="5.7" text-anchor="start" font-weight="normal" font-style="normal" fill="#222" stroke="#222" stroke-width="0.2" >Hb</text>
<circle cx="413.00" cy="383.80" r="1.3" fill="#ff0000"/>
<text x="413.00" y="380.26" font-size="5.7" text-anchor="middle" font-weight="normal" font-style="normal" fill="#222" stroke="#222" stroke-width="0.2" >CK</text>
<circle cx="410.60" cy="389.00" r="1.3" fill="#ff0000"/>
<text x="408.20" y="390.96" font-size="5.7" text-anchor="end" font-weight="normal" font-style="normal" fill="#222" stroke="#222" stroke-width="0.2" >Del 7q</text>
<circle cx="414.20" cy="393.60" r="1.3" fill="#ff0000"/>
<text x="414.20" y="400.76" font-size="5.7" text-anchor="middle" font-weight="normal" font-style="normal" fill="#222" stroke="#222" stroke-width="0.2" >MK</text>
<circle cx="415.30" cy="425.80" r="1.3" fill="#ff0000"/>
<text x="425.80" y="422.56" font-size="5.7" text-anchor="end" font-weight="normal" font-style="normal" fill="#222" stroke="#222" stroke-width="0.2" >Abnormal chr 11</text>
<circle cx="413.80" cy="429.40" r="1.3" fill="#ff0000"/>
<text x="412.20" y="430.06" font-size="5.7" text-anchor="end" font-weight="normal" font-style="normal" fill="#222" stroke="#222" stroke-width="0.2" >Marker chr</text>
<text x="3.00" y="509.57" font-size="9.5" text-anchor="start" font-weight="bold" font-style="normal" fill="#000" stroke="#000" stroke-width="0.2" >G</text>
<rect x="22.20" y="497.70" width="61.40" height="17.90" rx="0" fill="#a5a6aa"/>
<text x="52.90" y="504.94" font-size="6.5" text-anchor="middle" font-weight="normal" font-style="normal" fill="#fff" ><tspan font-style="italic">De novo</tspan> MDS-</text>
<text x="52.90" y="512.84" font-size="6.5" text-anchor="middle" font-weight="normal" font-style="normal" fill="#fff" >no AIRD</text>
<rect x="90.70" y="497.70" width="61.10" height="17.90" rx="0" fill="#ff46a3"/>
<text x="121.25" y="508.89" font-size="6.5" text-anchor="middle" font-weight="normal" font-style="normal" fill="#fff" >MDS- AIRD</text>
<text x="86.50" y="525.33" font-size="5.9" text-anchor="middle" font-weight="bold" font-style="normal" fill="#111" stroke="#111" stroke-width="0.2" >No effect</text>
<line x1="86.40" y1="525.60" x2="86.40" y2="665.20" stroke="#555" stroke-width="1" stroke-dasharray="2,1"/>
<line x1="21.00" y1="629.10" x2="151.20" y2="629.10" stroke="#555" stroke-width="1" stroke-dasharray="2,1"/>
<line x1="21.00" y1="525.60" x2="21.00" y2="667.20" stroke="#7d7d7d" stroke-width="1.8"/>
<line x1="18.60" y1="665.30" x2="21.00" y2="665.30" stroke="#333" stroke-width="1.62"/>
<text x="17.60" y="667.30" font-size="5.8" text-anchor="end" font-weight="normal" font-style="normal" fill="#222" stroke="#222" stroke-width="0.2" >0</text>
<line x1="18.60" y1="637.38" x2="21.00" y2="637.38" stroke="#333" stroke-width="1.62"/>
<text x="17.60" y="639.38" font-size="5.8" text-anchor="end" font-weight="normal" font-style="normal" fill="#222" stroke="#222" stroke-width="0.2" >1</text>
<line x1="18.60" y1="609.46" x2="21.00" y2="609.46" stroke="#333" stroke-width="1.62"/>
<text x="17.60" y="611.46" font-size="5.8" text-anchor="end" font-weight="normal" font-style="normal" fill="#222" stroke="#222" stroke-width="0.2" >2</text>
<line x1="18.60" y1="581.54" x2="21.00" y2="581.54" stroke="#333" stroke-width="1.62"/>
<text x="17.60" y="583.54" font-size="5.8" text-anchor="end" font-weight="normal" font-style="normal" fill="#222" stroke="#222" stroke-width="0.2" >3</text>
<line x1="18.60" y1="553.62" x2="21.00" y2="553.62" stroke="#333" stroke-width="1.62"/>
<text x="17.60" y="555.62" font-size="5.8" text-anchor="end" font-weight="normal" font-style="normal" fill="#222" stroke="#222" stroke-width="0.2" >4</text>
<line x1="18.60" y1="525.70" x2="21.00" y2="525.70" stroke="#333" stroke-width="1.62"/>
<text x="17.60" y="527.70" font-size="5.8" text-anchor="end" font-weight="normal" font-style="normal" fill="#222" stroke="#222" stroke-width="0.2" >5</text>
<line x1="20.10" y1="665.40" x2="151.20" y2="665.40" stroke="#222" stroke-width="1"/>
<line x1="21.02" y1="665.40" x2="21.02" y2="667.80" stroke="#222" stroke-width="0.9"/>
<text x="21.02" y="674.40" font-size="5.8" text-anchor="middle" font-weight="normal" font-style="normal" fill="#222" stroke="#222" stroke-width="0.2" >-4</text>
<line x1="53.56" y1="665.40" x2="53.56" y2="667.80" stroke="#222" stroke-width="0.9"/>
<text x="53.56" y="674.40" font-size="5.8" text-anchor="middle" font-weight="normal" font-style="normal" fill="#222" stroke="#222" stroke-width="0.2" >-2</text>
<line x1="86.10" y1="665.40" x2="86.10" y2="667.80" stroke="#222" stroke-width="0.9"/>
<text x="86.10" y="674.40" font-size="5.8" text-anchor="middle" font-weight="normal" font-style="normal" fill="#222" stroke="#222" stroke-width="0.2" >0</text>
<line x1="118.64" y1="665.40" x2="118.64" y2="667.80" stroke="#222" stroke-width="0.9"/>
<text x="118.64" y="674.40" font-size="5.8" text-anchor="middle" font-weight="normal" font-style="normal" fill="#222" stroke="#222" stroke-width="0.2" >2</text>
<line x1="151.18" y1="665.40" x2="151.18" y2="667.80" stroke="#222" stroke-width="0.9"/>
<text x="151.18" y="674.40" font-size="5.8" text-anchor="middle" font-weight="normal" font-style="normal" fill="#222" stroke="#222" stroke-width="0.2" >4</text>
<line x1="37.29" y1="665.40" x2="37.29" y2="666.84" stroke="#222" stroke-width="0.8"/>
<line x1="69.83" y1="665.40" x2="69.83" y2="666.84" stroke="#222" stroke-width="0.8"/>
<line x1="102.37" y1="665.40" x2="102.37" y2="666.84" stroke="#222" stroke-width="0.8"/>
<line x1="134.91" y1="665.40" x2="134.91" y2="666.84" stroke="#222" stroke-width="0.8"/>
<text x="86.50" y="682.24" font-size="6.5" text-anchor="middle" font-weight="normal" font-style="normal" fill="#222" stroke="#222" stroke-width="0.2" >log2 (odd ratio)</text>
<text x="4.50" y="597.31" font-size="6.6" text-anchor="middle" fill="#222" stroke="#222" stroke-width="0.2" transform="rotate(-90 4.50 595.00)">-log10 (<tspan font-style="italic">P</tspan> -value)</text>
<text x="152.00" y="635.60" font-size="5.8" text-anchor="end" font-weight="bold" font-style="normal" fill="#111" stroke="#111" stroke-width="0.2" ><tspan font-style="italic">P</tspan> &lt;0.05</text>
<circle cx="66.00" cy="659.20" r="1.3" fill="#555555"/>
<circle cx="103.40" cy="650.90" r="1.3" fill="#555555"/>
<circle cx="140.80" cy="660.70" r="1.3" fill="#555555"/>
<circle cx="114.60" cy="662.10" r="1.3" fill="#555555"/>
<circle cx="124.20" cy="664.10" r="1.3" fill="#555555"/>
<circle cx="86.20" cy="658.50" r="1.3" fill="#555555"/>
<circle cx="87.10" cy="661.90" r="1.3" fill="#555555"/>
<circle cx="98.30" cy="662.00" r="1.3" fill="#555555"/>
<circle cx="100.00" cy="662.00" r="1.3" fill="#555555"/>
<circle cx="101.20" cy="662.50" r="1.3" fill="#555555"/>
<circle cx="96.50" cy="663.50" r="1.3" fill="#555555"/>
<circle cx="77.70" cy="664.50" r="1.3" fill="#555555"/>
<circle cx="82.20" cy="665.00" r="1.3" fill="#555555"/>
<circle cx="88.90" cy="664.50" r="1.3" fill="#555555"/>
<circle cx="92.20" cy="664.20" r="1.3" fill="#555555"/>
<circle cx="94.50" cy="663.80" r="1.3" fill="#555555"/>
<circle cx="107.90" cy="664.00" r="1.3" fill="#555555"/>
<circle cx="84.00" cy="664.80" r="1.3" fill="#555555"/>
<circle cx="90.00" cy="664.80" r="1.3" fill="#555555"/>
<text x="355.00" y="508.67" font-size="9.5" text-anchor="start" font-weight="bold" font-style="normal" fill="#000" stroke="#000" stroke-width="0.2" >I</text>
<rect x="371.30" y="495.80" width="61.70" height="16.40" rx="0" fill="#4ba5b9"/>
<text x="402.15" y="506.24" font-size="6.5" text-anchor="middle" font-weight="normal" font-style="normal" fill="#fff" >t-MDS- no AIRD</text>
<rect x="441.00" y="495.80" width="61.30" height="16.40" rx="0" fill="#ff46a3"/>
<text x="471.65" y="506.24" font-size="6.5" text-anchor="middle" font-weight="normal" font-style="normal" fill="#fff" >MDS- AIRD</text>
<text x="437.70" y="520.63" font-size="5.9" text-anchor="middle" font-weight="bold" font-style="normal" fill="#111" stroke="#111" stroke-width="0.2" >No effect</text>
<line x1="436.70" y1="523.30" x2="436.70" y2="664.00" stroke="#777" stroke-width="1" stroke-dasharray="1,2"/>
<line x1="372.20" y1="627.50" x2="501.20" y2="627.50" stroke="#555" stroke-width="1" stroke-dasharray="1.5,1.3"/>
<line x1="371.60" y1="523.30" x2="371.60" y2="664.90" stroke="#222" stroke-width="1"/>
<line x1="369.20" y1="664.30" x2="371.60" y2="664.30" stroke="#222" stroke-width="0.9"/>
<text x="368.20" y="666.30" font-size="5.8" text-anchor="end" font-weight="normal" font-style="normal" fill="#222" stroke="#222" stroke-width="0.2" >0</text>
<line x1="369.20" y1="636.15" x2="371.60" y2="636.15" stroke="#222" stroke-width="0.9"/>
<text x="368.20" y="638.15" font-size="5.8" text-anchor="end" font-weight="normal" font-style="normal" fill="#222" stroke="#222" stroke-width="0.2" >1</text>
<line x1="369.20" y1="608.00" x2="371.60" y2="608.00" stroke="#222" stroke-width="0.9"/>
<text x="368.20" y="610.00" font-size="5.8" text-anchor="end" font-weight="normal" font-style="normal" fill="#222" stroke="#222" stroke-width="0.2" >2</text>
<line x1="369.20" y1="579.85" x2="371.60" y2="579.85" stroke="#222" stroke-width="0.9"/>
<text x="368.20" y="581.85" font-size="5.8" text-anchor="end" font-weight="normal" font-style="normal" fill="#222" stroke="#222" stroke-width="0.2" >3</text>
<line x1="369.20" y1="551.70" x2="371.60" y2="551.70" stroke="#222" stroke-width="0.9"/>
<text x="368.20" y="553.70" font-size="5.8" text-anchor="end" font-weight="normal" font-style="normal" fill="#222" stroke="#222" stroke-width="0.2" >4</text>
<line x1="369.20" y1="523.55" x2="371.60" y2="523.55" stroke="#222" stroke-width="0.9"/>
<text x="368.20" y="525.55" font-size="5.8" text-anchor="end" font-weight="normal" font-style="normal" fill="#222" stroke="#222" stroke-width="0.2" >5</text>
<line x1="371.10" y1="664.40" x2="502.60" y2="664.40" stroke="#222" stroke-width="1"/>
<line x1="393.80" y1="664.40" x2="393.80" y2="666.80" stroke="#222" stroke-width="0.9"/>
<text x="393.80" y="673.40" font-size="5.8" text-anchor="middle" font-weight="normal" font-style="normal" fill="#222" stroke="#222" stroke-width="0.2" >-2</text>
<line x1="437.00" y1="664.40" x2="437.00" y2="666.80" stroke="#222" stroke-width="0.9"/>
<text x="437.00" y="673.40" font-size="5.8" text-anchor="middle" font-weight="normal" font-style="normal" fill="#222" stroke="#222" stroke-width="0.2" >0</text>
<line x1="480.20" y1="664.40" x2="480.20" y2="666.80" stroke="#222" stroke-width="0.9"/>
<text x="480.20" y="673.40" font-size="5.8" text-anchor="middle" font-weight="normal" font-style="normal" fill="#222" stroke="#222" stroke-width="0.2" >2</text>
<line x1="372.20" y1="664.40" x2="372.20" y2="665.84" stroke="#222" stroke-width="0.8"/>
<line x1="415.40" y1="664.40" x2="415.40" y2="665.84" stroke="#222" stroke-width="0.8"/>
<line x1="458.60" y1="664.40" x2="458.60" y2="665.84" stroke="#222" stroke-width="0.8"/>
<line x1="501.80" y1="664.40" x2="501.80" y2="665.84" stroke="#222" stroke-width="0.8"/>
<text x="437.50" y="681.84" font-size="6.5" text-anchor="middle" font-weight="normal" font-style="normal" fill="#222" stroke="#222" stroke-width="0.2" >log2 (odd ratio)</text>
<text x="355.60" y="595.51" font-size="6.6" text-anchor="middle" fill="#222" stroke="#222" stroke-width="0.2" transform="rotate(-90 355.60 593.20)">-log10 (<tspan font-style="italic">P</tspan> -value)</text>
<text x="503.00" y="635.80" font-size="5.8" text-anchor="end" font-weight="bold" font-style="normal" fill="#111" stroke="#111" stroke-width="0.2" ><tspan font-style="italic">P</tspan> &lt;0.05</text>
<circle cx="376.10" cy="646.10" r="1.3" fill="#555555"/>
<circle cx="406.90" cy="637.50" r="1.3" fill="#555555"/>
<circle cx="416.00" cy="646.10" r="1.3" fill="#555555"/>
<circle cx="400.30" cy="650.90" r="1.3" fill="#555555"/>
<circle cx="411.20" cy="651.80" r="1.3" fill="#555555"/>
<circle cx="401.20" cy="656.90" r="1.3" fill="#555555"/>
<circle cx="403.20" cy="657.50" r="1.3" fill="#555555"/>
<circle cx="418.30" cy="661.50" r="1.3" fill="#555555"/>
<circle cx="423.40" cy="661.50" r="1.3" fill="#555555"/>
<circle cx="426.80" cy="661.50" r="1.3" fill="#555555"/>
<circle cx="428.00" cy="662.30" r="1.3" fill="#555555"/>
<circle cx="429.50" cy="661.50" r="1.3" fill="#555555"/>
<circle cx="437.10" cy="643.80" r="1.3" fill="#555555"/>
<circle cx="438.30" cy="663.20" r="1.3" fill="#555555"/>
<circle cx="439.60" cy="663.20" r="1.3" fill="#555555"/>
<circle cx="443.90" cy="661.00" r="1.3" fill="#555555"/>
<circle cx="445.30" cy="660.60" r="1.3" fill="#555555"/>
<circle cx="446.70" cy="661.00" r="1.3" fill="#555555"/>
<circle cx="451.00" cy="648.10" r="1.3" fill="#555555"/>
<circle cx="455.30" cy="646.60" r="1.3" fill="#555555"/>
<circle cx="456.70" cy="656.00" r="1.3" fill="#555555"/>
<circle cx="467.60" cy="652.30" r="1.3" fill="#555555"/>
<circle cx="425.60" cy="662.80" r="1.3" fill="#555555"/>
<circle cx="441.50" cy="663.60" r="1.3" fill="#555555"/>
<circle cx="389.20" cy="576.90" r="1.3" fill="#ff0000"/>
<text x="389.00" y="574.36" font-size="5.7" text-anchor="middle" font-weight="normal" font-style="normal" fill="#222" stroke="#222" stroke-width="0.2" >CK</text>
<circle cx="392.70" cy="587.40" r="1.3" fill="#ff0000"/>
<text x="396.00" y="589.36" font-size="5.7" text-anchor="start" font-weight="normal" font-style="normal" fill="#222" stroke="#222" stroke-width="0.2" >MK</text>
<circle cx="392.10" cy="598.80" r="1.3" fill="#ff0000"/>
<text x="396.00" y="600.76" font-size="5.7" text-anchor="start" font-weight="normal" font-style="normal" fill="#222" stroke="#222" stroke-width="0.2" >Del 7q</text>
<circle cx="395.00" cy="626.70" r="1.3" fill="#ff0000"/>
<text x="393.20" y="623.86" font-size="5.7" text-anchor="middle" font-weight="normal" font-style="normal" fill="#222" stroke="#222" stroke-width="0.2" >Marker chr</text>
<circle cx="437.10" cy="578.30" r="1.3" fill="#0000ff"/>
<text x="440.00" y="580.26" font-size="5.7" text-anchor="start" font-weight="normal" font-style="normal" fill="#222" stroke="#222" stroke-width="0.2" >Platelets</text>
<text x="167.20" y="299.77" font-size="9.5" text-anchor="start" font-weight="bold" font-style="normal" fill="#000" stroke="#000" stroke-width="0.2" >D</text>
<line x1="194.20" y1="318.70" x2="194.20" y2="461.60" stroke="#767676" stroke-width="1.6"/>
<line x1="191.80" y1="459.40" x2="194.20" y2="459.40" stroke="#222" stroke-width="1.4400000000000002"/>
<text x="190.80" y="461.36" font-size="5.7" text-anchor="end" font-weight="normal" font-style="normal" fill="#222" stroke="#222" stroke-width="0.2" >0</text>
<line x1="191.80" y1="431.26" x2="194.20" y2="431.26" stroke="#222" stroke-width="1.4400000000000002"/>
<text x="190.80" y="433.22" font-size="5.7" text-anchor="end" font-weight="normal" font-style="normal" fill="#222" stroke="#222" stroke-width="0.2" >20</text>
<line x1="191.80" y1="403.12" x2="194.20" y2="403.12" stroke="#222" stroke-width="1.4400000000000002"/>
<text x="190.80" y="405.08" font-size="5.7" text-anchor="end" font-weight="normal" font-style="normal" fill="#222" stroke="#222" stroke-width="0.2" >40</text>
<line x1="191.80" y1="374.98" x2="194.20" y2="374.98" stroke="#222" stroke-width="1.4400000000000002"/>
<text x="190.80" y="376.94" font-size="5.7" text-anchor="end" font-weight="normal" font-style="normal" fill="#222" stroke="#222" stroke-width="0.2" >60</text>
<line x1="191.80" y1="346.84" x2="194.20" y2="346.84" stroke="#222" stroke-width="1.4400000000000002"/>
<text x="190.80" y="348.80" font-size="5.7" text-anchor="end" font-weight="normal" font-style="normal" fill="#222" stroke="#222" stroke-width="0.2" >80</text>
<line x1="191.80" y1="318.70" x2="194.20" y2="318.70" stroke="#222" stroke-width="1.4400000000000002"/>
<text x="190.80" y="320.66" font-size="5.7" text-anchor="end" font-weight="normal" font-style="normal" fill="#222" stroke="#222" stroke-width="0.2" >100</text>
<line x1="194.20" y1="459.40" x2="311.50" y2="459.40" stroke="#222" stroke-width="1.0"/>
<line x1="194.20" y1="459.40" x2="194.20" y2="461.80" stroke="#222" stroke-width="0.9"/>
<text x="194.20" y="468.73" font-size="5.9" text-anchor="middle" font-weight="normal" font-style="normal" fill="#222" stroke="#222" stroke-width="0.2" >0</text>
<line x1="223.52" y1="459.40" x2="223.52" y2="461.80" stroke="#222" stroke-width="0.9"/>
<text x="223.52" y="468.73" font-size="5.9" text-anchor="middle" font-weight="normal" font-style="normal" fill="#222" stroke="#222" stroke-width="0.2" >24</text>
<line x1="252.85" y1="459.40" x2="252.85" y2="461.80" stroke="#222" stroke-width="0.9"/>
<text x="252.85" y="468.73" font-size="5.9" text-anchor="middle" font-weight="normal" font-style="normal" fill="#222" stroke="#222" stroke-width="0.2" >48</text>
<line x1="282.18" y1="459.40" x2="282.18" y2="461.80" stroke="#222" stroke-width="0.9"/>
<text x="282.18" y="468.73" font-size="5.9" text-anchor="middle" font-weight="normal" font-style="normal" fill="#222" stroke="#222" stroke-width="0.2" >72</text>
<line x1="311.50" y1="459.40" x2="311.50" y2="461.80" stroke="#222" stroke-width="0.9"/>
<text x="311.50" y="468.73" font-size="5.9" text-anchor="middle" font-weight="normal" font-style="normal" fill="#222" stroke="#222" stroke-width="0.2" >96</text>
<path d="M194.20,318.70H194.57V319.26H194.73V320.16H194.90V321.06H195.07V321.95H195.24V322.85H195.41V323.75H195.57V324.64H195.74V325.54H195.91V326.44H196.18V327.24H196.45V328.04H196.72V328.84H196.99V329.65H197.25V330.45H197.52V331.25H197.79V332.05H198.06V332.85H198.33V333.66H198.60V334.46H198.95V335.33H199.30V336.21H199.66V337.08H200.01V337.96H200.36V338.84H200.72V339.71H201.07V340.59H201.42V341.46H201.78V342.34H202.14V343.20H202.51V344.06H202.88V344.92H203.24V345.78H203.61V346.64H203.97V347.50H204.34V348.36H204.71V349.22H205.07V350.08H205.55V350.94H206.02V351.80H206.49V352.67H206.96V353.53H207.43V354.40H207.90V355.26H208.37V356.13H208.80V356.99H209.23V357.86H209.66V358.73H210.08V359.60H210.51V360.46H210.94V361.33H211.71V362.20H212.49V363.07H213.26V363.94H214.04V364.80H214.81V365.67H215.58V366.54H216.51V367.47H217.44V368.40H218.37V369.32H219.30V370.25H220.23V371.18H220.88V372.05H221.53V372.92H222.18V373.78H222.83V374.65H223.48V375.52H224.14V376.39H225.06V377.32H225.99V378.24H226.92V379.17H227.85V380.10H228.78V381.03H229.83V381.93H230.88V382.83H231.93V383.73H232.98V384.63H234.03V385.53H235.78V386.42H237.54V387.31H239.29V388.21H241.04V389.10H242.79V389.99H244.54V390.88H245.29V391.72H246.04V392.57H246.79V393.41H247.54V394.26H248.29V395.10H249.04V395.94H249.80V396.79H251.32V397.70H252.85V398.62H254.32V399.32H255.78V400.02H257.74V400.52H259.69V401.01H261.65V401.64H263.60V402.28H265.56V402.84H267.51V403.40H269.41V404.39H271.30V405.37H272.28V406.26H273.26V407.15H274.23V408.04H276.19V408.89H278.14V409.73H280.10V410.44H282.05V411.14H284.01V411.42H285.96V411.70H287.37V412.12H288.77V412.55H290.24V413.32H291.71V414.09H295.62V414.24H297.20V414.47H298.79V414.70H300.38V414.94H301.85V415.50H303.31V416.06H304.29V416.86H305.27V417.66H306.25V418.46H311.62V418.74" fill="none" stroke="#555a5c" stroke-width="1.2"/>
<path d="M194.20,318.70H194.57V319.26H194.97V320.97H195.38V322.69H195.79V324.40H196.20V326.11H196.60V327.82H197.01V329.53H197.62V331.22H198.23V332.91H198.84V334.60H199.45V336.29H200.35V337.79H201.25V339.29H202.14V340.79H202.83V342.37H203.51V343.94H204.19V345.52H204.88V347.09H205.56V348.67H206.42V350.43H207.27V352.19H208.13V353.95H208.98V355.70H209.66V357.46H210.33V359.22H211.00V360.98H211.67V362.74H212.74V364.29H213.81V365.83H214.88V367.38H215.95V368.93H217.42V370.71H218.88V372.49H220.35V374.28H221.81V375.73H223.28V377.18H224.75V378.64H226.46V380.40H228.17V382.16H229.63V383.33H231.10V384.50H232.57V385.67H234.03V386.85H235.50V388.02H236.97V389.19H238.55V391.09H240.14V392.99H246.13V393.27H248.45V395.66H250.53V396.23H251.57V397.77H252.61V399.32H257.74V399.60H259.81V401.43H261.65V401.71H263.48V401.99H264.52V403.54H265.56V405.09H271.30V405.37H271.67V407.27H272.03V409.17H272.40V411.07H272.77V412.97H274.60V413.25H276.43V413.53H277.47V414.80H278.51V416.06H280.10V417.68H281.69V419.30H282.72V421.41H283.76V423.52H301.48V423.52H301.97V425.35H311.26V425.35H311.44V427.32H311.62V429.29" fill="none" stroke="#c8255f" stroke-width="1.2"/>
<text x="212.00" y="432.63" font-size="6.2" text-anchor="start" font-weight="normal" font-style="normal" fill="#222" stroke="#222" stroke-width="0.2" ><tspan font-style="italic">P</tspan> =0.8</text>
<text x="173.80" y="391.32" font-size="6.5" text-anchor="middle" fill="#222" stroke="#222" stroke-width="0.2" transform="rotate(-90 173.80 389.05)">Probability of survival</text>
<text x="252.85" y="477.47" font-size="6.6" text-anchor="middle" font-weight="normal" font-style="normal" fill="#222" stroke="#222" stroke-width="0.2" >Survival since diagnosis (months)</text>
<rect x="198.90" y="291.20" width="125.00" height="32.10" rx="0" fill="#fff" stroke="#474c52" stroke-width="1.0"/>
<text x="320.70" y="299.10" font-size="6.1" text-anchor="end" font-weight="bold" font-style="normal" fill="#111" stroke="#111" stroke-width="0.2" >Median OS</text>
<line x1="202.20" y1="308.60" x2="208.40" y2="308.60" stroke="#555" stroke-width="1"/>
<line x1="205.30" y1="307.60" x2="205.30" y2="309.10" stroke="#555" stroke-width="0.8"/>
<text x="211.90" y="310.10" font-size="6.1" text-anchor="start" font-weight="bold" font-style="normal" fill="#111" stroke="#111" stroke-width="0.2" ><tspan font-style="italic">De novo</tspan> MN- no AIRD (n=874)</text>
<text x="320.70" y="310.10" font-size="6.1" text-anchor="end" font-weight="normal" font-style="normal" fill="#222" stroke="#222" stroke-width="0.2" >33.7</text>
<line x1="202.20" y1="319.80" x2="208.40" y2="319.80" stroke="#d22a70" stroke-width="1"/>
<line x1="205.30" y1="318.80" x2="205.30" y2="320.30" stroke="#d22a70" stroke-width="0.8"/>
<text x="211.90" y="321.30" font-size="6.1" text-anchor="start" font-weight="bold" font-style="normal" fill="#111" stroke="#111" stroke-width="0.2" >MN- AIRD (n=131)</text>
<text x="320.70" y="321.30" font-size="6.1" text-anchor="end" font-weight="normal" font-style="normal" fill="#222" stroke="#222" stroke-width="0.2" >33.7</text>
<text x="521.80" y="299.47" font-size="9.5" text-anchor="start" font-weight="bold" font-style="normal" fill="#000" stroke="#000" stroke-width="0.2" >F</text>
<line x1="547.60" y1="319.50" x2="547.60" y2="459.30" stroke="#222" stroke-width="1.0"/>
<line x1="545.20" y1="459.30" x2="547.60" y2="459.30" stroke="#222" stroke-width="0.9"/>
<text x="544.20" y="461.26" font-size="5.7" text-anchor="end" font-weight="normal" font-style="normal" fill="#222" stroke="#222" stroke-width="0.2" >0</text>
<line x1="545.20" y1="431.34" x2="547.60" y2="431.34" stroke="#222" stroke-width="0.9"/>
<text x="544.20" y="433.30" font-size="5.7" text-anchor="end" font-weight="normal" font-style="normal" fill="#222" stroke="#222" stroke-width="0.2" >20</text>
<line x1="545.20" y1="403.38" x2="547.60" y2="403.38" stroke="#222" stroke-width="0.9"/>
<text x="544.20" y="405.34" font-size="5.7" text-anchor="end" font-weight="normal" font-style="normal" fill="#222" stroke="#222" stroke-width="0.2" >40</text>
<line x1="545.20" y1="375.42" x2="547.60" y2="375.42" stroke="#222" stroke-width="0.9"/>
<text x="544.20" y="377.38" font-size="5.7" text-anchor="end" font-weight="normal" font-style="normal" fill="#222" stroke="#222" stroke-width="0.2" >60</text>
<line x1="545.20" y1="347.46" x2="547.60" y2="347.46" stroke="#222" stroke-width="0.9"/>
<text x="544.20" y="349.42" font-size="5.7" text-anchor="end" font-weight="normal" font-style="normal" fill="#222" stroke="#222" stroke-width="0.2" >80</text>
<line x1="545.20" y1="319.50" x2="547.60" y2="319.50" stroke="#222" stroke-width="0.9"/>
<text x="544.20" y="321.46" font-size="5.7" text-anchor="end" font-weight="normal" font-style="normal" fill="#222" stroke="#222" stroke-width="0.2" >100</text>
<line x1="547.60" y1="459.30" x2="665.50" y2="459.30" stroke="#222" stroke-width="1.0"/>
<line x1="547.60" y1="459.30" x2="547.60" y2="461.70" stroke="#222" stroke-width="0.9"/>
<text x="547.60" y="468.63" font-size="5.9" text-anchor="middle" font-weight="normal" font-style="normal" fill="#222" stroke="#222" stroke-width="0.2" >0</text>
<line x1="577.08" y1="459.30" x2="577.08" y2="461.70" stroke="#222" stroke-width="0.9"/>
<text x="577.08" y="468.63" font-size="5.9" text-anchor="middle" font-weight="normal" font-style="normal" fill="#222" stroke="#222" stroke-width="0.2" >24</text>
<line x1="606.55" y1="459.30" x2="606.55" y2="461.70" stroke="#222" stroke-width="0.9"/>
<text x="606.55" y="468.63" font-size="5.9" text-anchor="middle" font-weight="normal" font-style="normal" fill="#222" stroke="#222" stroke-width="0.2" >48</text>
<line x1="636.02" y1="459.30" x2="636.02" y2="461.70" stroke="#222" stroke-width="0.9"/>
<text x="636.02" y="468.63" font-size="5.9" text-anchor="middle" font-weight="normal" font-style="normal" fill="#222" stroke="#222" stroke-width="0.2" >72</text>
<line x1="665.50" y1="459.30" x2="665.50" y2="461.70" stroke="#222" stroke-width="0.9"/>
<text x="665.50" y="468.63" font-size="5.9" text-anchor="middle" font-weight="normal" font-style="normal" fill="#222" stroke="#222" stroke-width="0.2" >96</text>
<path d="M547.60,319.50H547.97V319.92H548.16V320.76H548.36V321.60H548.55V322.44H548.75V323.27H548.94V324.11H549.14V324.95H549.33V325.79H549.52V326.63H549.72V327.47H549.91V328.31H550.11V329.15H550.30V329.99H550.47V330.81H550.65V331.63H550.82V332.45H550.99V333.27H551.16V334.09H551.33V334.91H551.51V335.73H551.68V336.55H551.85V337.37H552.02V338.19H552.19V339.01H552.37V339.83H552.54V340.65H552.71V341.47H552.88V342.29H553.04V343.11H553.20V343.93H553.36V344.75H553.52V345.58H553.68V346.40H553.83V347.22H553.99V348.04H554.15V348.87H554.31V349.69H554.47V350.51H554.63V351.33H554.79V352.16H554.95V352.98H555.11V353.80H555.26V354.62H555.42V355.45H555.58V356.27H555.80V357.14H556.01V358.01H556.23V358.89H556.44V359.76H556.66V360.64H556.87V361.51H557.09V362.38H557.30V363.26H557.52V364.13H557.73V365.00H557.95V365.88H558.16V366.75H558.38V367.63H558.59V368.50H558.81V369.37H559.02V370.25H559.24V371.12H559.45V371.99H559.67V372.87H559.88V373.74H560.10V374.62H560.31V375.49H560.53V376.36H560.74V377.24H560.99V378.04H561.23V378.84H561.48V379.64H561.72V380.44H561.97V381.24H562.21V382.04H562.46V382.84H562.71V383.64H562.95V384.44H563.20V385.24H563.44V386.04H563.79V386.93H564.13V387.81H564.47V388.69H564.82V389.57H565.16V390.45H565.51V391.33H565.85V392.21H566.19V393.09H566.54V393.97H566.88V394.85H567.33V395.73H567.77V396.60H568.22V397.47H568.66V398.35H569.11V399.22H569.55V400.09H570.00V400.97H570.44V401.84H571.16V402.73H571.88V403.61H572.59V404.50H573.31V405.38H574.03V406.27H574.74V407.15H575.25V408.01H575.76V408.87H576.27V409.73H576.78V410.59H577.29V411.45H577.79V412.31H578.30V413.17H578.88V414.05H579.45V414.94H580.02V415.82H580.60V416.71H581.17V417.59H581.74V418.48H583.49V419.35H585.24V420.23H586.99V421.10H588.74V421.97H590.14V422.87H591.54V423.76H592.94V424.66H594.34V425.55H595.74V426.45H597.18V427.01H598.61V427.57H600.04V428.12H601.33V428.86H602.62V429.59H603.91V430.33H605.20V431.06H606.92V431.20H608.64V431.34H610.36V431.48H611.68V432.42H613.00V433.37H614.32V434.31H615.64V435.25H617.40V435.58H619.16V435.91H620.92V436.23H622.48V436.48H624.05V436.72H625.62V436.97H627.18V437.21H628.57V437.58H629.97V437.96H631.36V438.33H633.12V439.03H634.88V439.73H636.64V440.43H638.36V440.57H640.08V440.71H641.80V440.85H643.19V441.31H644.58V441.78H645.97V442.24H654.32V442.24H656.41V442.66H664.89V442.80H665.25V443.71H665.62V444.62" fill="none" stroke="#2e8d9a" stroke-width="1.3"/>
<path d="M547.60,319.50H547.97V320.06H548.38V321.76H548.79V323.46H549.20V325.16H549.61V326.86H550.02V328.56H550.42V330.26H551.04V331.94H551.65V333.62H552.27V335.30H552.88V336.98H553.78V338.47H554.68V339.96H555.58V341.45H556.27V343.01H556.96V344.58H557.65V346.15H558.33V347.71H559.02V349.28H559.88V351.02H560.74V352.77H561.60V354.52H562.46V356.27H563.14V358.01H563.81V359.76H564.49V361.51H565.16V363.26H566.24V364.80H567.31V366.33H568.39V367.87H569.46V369.41H570.93V371.18H572.41V372.95H573.88V374.72H575.36V376.17H576.83V377.61H578.30V379.05H580.02V380.80H581.74V382.55H583.22V383.71H584.69V384.88H586.16V386.04H587.64V387.21H589.11V388.37H590.58V389.54H592.18V391.43H593.78V393.31H599.80V393.59H602.13V395.97H604.22V396.53H605.26V398.07H606.30V399.61H611.46V399.88H613.55V401.70H615.39V401.98H617.23V402.26H618.28V403.80H619.32V405.34H625.09V405.62H625.46V407.50H625.83V409.39H626.20V411.28H626.57V413.17H628.41V413.45H630.25V413.73H631.30V414.98H632.34V416.24H633.94V417.85H635.53V419.46H636.58V421.55H637.62V423.65H655.43V423.65H655.92V425.47H665.25V425.47H665.44V427.43H665.62V429.38" fill="none" stroke="#c8255f" stroke-width="1.2"/>
<text x="557.00" y="432.63" font-size="6.2" text-anchor="start" font-weight="normal" font-style="normal" fill="#222" stroke="#222" stroke-width="0.2" ><tspan font-style="italic">P</tspan> &lt;0.0001</text>
<text x="527.20" y="391.67" font-size="6.5" text-anchor="middle" fill="#222" stroke="#222" stroke-width="0.2" transform="rotate(-90 527.20 389.40)">Probability of survival</text>
<text x="606.55" y="477.37" font-size="6.6" text-anchor="middle" font-weight="normal" font-style="normal" fill="#222" stroke="#222" stroke-width="0.2" >Survival since diagnosis (months)</text>
<rect x="552.00" y="291.10" width="116.00" height="32.20" rx="0" fill="#fff" stroke="#474c52" stroke-width="1.0"/>
<text x="664.20" y="299.60" font-size="6.1" text-anchor="end" font-weight="bold" font-style="normal" fill="#111" stroke="#111" stroke-width="0.2" >Median OS</text>
<line x1="555.80" y1="309.30" x2="562.70" y2="309.30" stroke="#3b9cab" stroke-width="1"/>
<line x1="559.25" y1="308.30" x2="559.25" y2="309.80" stroke="#3b9cab" stroke-width="0.8"/>
<text x="565.50" y="310.80" font-size="6.1" text-anchor="start" font-weight="bold" font-style="normal" fill="#111" stroke="#111" stroke-width="0.2" >t-MN- no AIRD (n=697)</text>
<text x="664.20" y="310.80" font-size="6.1" text-anchor="end" font-weight="normal" font-style="normal" fill="#222" stroke="#222" stroke-width="0.2" >14.01</text>
<line x1="555.80" y1="320.10" x2="562.70" y2="320.10" stroke="#d22a70" stroke-width="1"/>
<line x1="559.25" y1="319.10" x2="559.25" y2="320.60" stroke="#d22a70" stroke-width="0.8"/>
<text x="565.50" y="321.60" font-size="6.1" text-anchor="start" font-weight="bold" font-style="normal" fill="#111" stroke="#111" stroke-width="0.2" >MN- AIRD &#160;(n=131)</text>
<text x="664.20" y="321.60" font-size="6.1" text-anchor="end" font-weight="normal" font-style="normal" fill="#222" stroke="#222" stroke-width="0.2" >33.7</text>
<text x="167.20" y="508.87" font-size="9.5" text-anchor="start" font-weight="bold" font-style="normal" fill="#000" stroke="#000" stroke-width="0.2" >H</text>
<line x1="193.60" y1="524.20" x2="193.60" y2="664.60" stroke="#222" stroke-width="1.0"/>
<line x1="191.20" y1="664.60" x2="193.60" y2="664.60" stroke="#222" stroke-width="0.9"/>
<text x="190.20" y="666.56" font-size="5.7" text-anchor="end" font-weight="normal" font-style="normal" fill="#222" stroke="#222" stroke-width="0.2" >0</text>
<line x1="191.20" y1="636.52" x2="193.60" y2="636.52" stroke="#222" stroke-width="0.9"/>
<text x="190.20" y="638.48" font-size="5.7" text-anchor="end" font-weight="normal" font-style="normal" fill="#222" stroke="#222" stroke-width="0.2" >20</text>
<line x1="191.20" y1="608.44" x2="193.60" y2="608.44" stroke="#222" stroke-width="0.9"/>
<text x="190.20" y="610.40" font-size="5.7" text-anchor="end" font-weight="normal" font-style="normal" fill="#222" stroke="#222" stroke-width="0.2" >40</text>
<line x1="191.20" y1="580.36" x2="193.60" y2="580.36" stroke="#222" stroke-width="0.9"/>
<text x="190.20" y="582.32" font-size="5.7" text-anchor="end" font-weight="normal" font-style="normal" fill="#222" stroke="#222" stroke-width="0.2" >60</text>
<line x1="191.20" y1="552.28" x2="193.60" y2="552.28" stroke="#222" stroke-width="0.9"/>
<text x="190.20" y="554.24" font-size="5.7" text-anchor="end" font-weight="normal" font-style="normal" fill="#222" stroke="#222" stroke-width="0.2" >80</text>
<line x1="191.20" y1="524.20" x2="193.60" y2="524.20" stroke="#222" stroke-width="0.9"/>
<text x="190.20" y="526.16" font-size="5.7" text-anchor="end" font-weight="normal" font-style="normal" fill="#222" stroke="#222" stroke-width="0.2" >100</text>
<line x1="193.60" y1="664.60" x2="311.80" y2="664.60" stroke="#555" stroke-width="1.4"/>
<line x1="193.60" y1="664.60" x2="193.60" y2="667.00" stroke="#555" stroke-width="1.26"/>
<text x="193.60" y="673.93" font-size="5.9" text-anchor="middle" font-weight="normal" font-style="normal" fill="#222" stroke="#222" stroke-width="0.2" >0</text>
<line x1="223.15" y1="664.60" x2="223.15" y2="667.00" stroke="#555" stroke-width="1.26"/>
<text x="223.15" y="673.93" font-size="5.9" text-anchor="middle" font-weight="normal" font-style="normal" fill="#222" stroke="#222" stroke-width="0.2" >24</text>
<line x1="252.70" y1="664.60" x2="252.70" y2="667.00" stroke="#555" stroke-width="1.26"/>
<text x="252.70" y="673.93" font-size="5.9" text-anchor="middle" font-weight="normal" font-style="normal" fill="#222" stroke="#222" stroke-width="0.2" >48</text>
<line x1="282.25" y1="664.60" x2="282.25" y2="667.00" stroke="#555" stroke-width="1.26"/>
<text x="282.25" y="673.93" font-size="5.9" text-anchor="middle" font-weight="normal" font-style="normal" fill="#222" stroke="#222" stroke-width="0.2" >72</text>
<line x1="311.80" y1="664.60" x2="311.80" y2="667.00" stroke="#555" stroke-width="1.26"/>
<text x="311.80" y="673.93" font-size="5.9" text-anchor="middle" font-weight="normal" font-style="normal" fill="#222" stroke="#222" stroke-width="0.2" >96</text>
<path d="M193.60,524.20H195.94V524.62H196.33V525.69H196.73V526.76H197.12V527.82H197.52V528.89H197.91V529.96H198.43V531.00H198.94V532.03H199.46V533.07H199.98V534.11H200.50V535.15H201.16V536.19H201.82V537.23H202.49V538.27H203.15V539.31H203.82V540.35H204.19V541.29H204.56V542.23H204.93V543.17H205.30V544.12H205.67V545.06H206.04V546.00H206.41V546.94H206.96V547.93H207.51V548.91H208.07V549.89H208.62V550.88H209.18V551.86H209.73V552.84H210.56V553.82H211.39V554.81H212.22V555.79H213.05V556.77H214.37V557.66H215.68V558.55H216.99V559.44H217.63V560.34H218.27V561.24H218.91V562.14H219.55V563.03H220.19V563.93H220.67V564.98H221.14V566.02H221.62V567.06H222.09V568.11H222.57V569.15H223.04V570.19H223.52V571.23H224.35V572.22H225.18V573.20H226.01V574.18H226.84V575.17H227.91V576.29H228.98V577.41H230.05V578.53H230.70V579.52H231.36V580.50H232.01V581.48H232.67V582.47H233.33V583.45H233.98V584.43H235.30V585.27H236.61V586.12H237.93V586.96H239.24V587.85H240.55V588.74H241.87V589.63H242.97V590.70H244.08V591.78H245.19V592.86H245.95V593.91H246.71V594.96H247.47V596.01H248.23V597.07H248.99V598.12H249.75V599.17H251.10V600.37H252.45V601.56H253.23V602.54H254.01V603.53H254.79V604.51H256.27V605.00H257.75V605.49H259.23V606.26H260.70V607.04H262.61V607.74H264.52V608.44H265.34V609.28H266.16V610.12H266.98V610.97H267.72V612.16H268.46V613.35H271.29V613.78H272.77V614.97H274.25V616.16H275.72V617.14H277.20V618.13H278.15V619.11H279.09V620.09H280.03V621.08H281.02V622.01H282.00V622.95H282.99V623.88H284.96V624.16H286.93V624.45H288.84V625.64H290.75V626.83H292.35V627.30H293.95V627.77H295.55V628.24H297.52V628.52H299.49V628.80H301.21V629.29H302.94V629.78H303.71V630.76H304.49V631.75H305.27V632.73H305.93V633.67H306.59V634.60H307.24V635.54H309.15V635.96H311.06V636.38" fill="none" stroke="#9a9a9a" stroke-width="1.2"/>
<path d="M193.60,524.20H195.08V525.04H196.56V525.88H197.21V527.85H197.87V529.82H198.53V531.78H199.43V533.33H200.33V534.87H201.23V536.41H201.85V538.38H202.47V540.35H203.45V542.03H204.44V543.72H204.77V545.65H205.11V547.58H205.45V549.51H205.79V551.44H206.65V552.98H207.51V554.53H208.38V556.07H208.87V557.72H209.36V559.37H209.85V561.02H210.34V562.67H211.70V564.64H213.05V566.60H214.35V568.57H215.64V570.53H216.93V572.50H218.22V574.46H219.58V576.50H220.93V578.53H222.00V580.27H223.07V582.00H224.13V583.73H225.24V585.70H226.35V587.66H227.46V589.63H229.12V591.24H230.78V592.86H232.38V593.21H233.98V593.56H235.28V595.52H236.57V597.49H237.93V599.45H239.28V601.42H240.91V601.60H242.54V601.77H244.17V601.95H245.81V602.12H247.28V603.81H251.47V604.23H252.21V606.12H252.95V608.02H259.23V608.44H260.21V610.83H263.29V611.11H263.99V612.79H264.68V614.48H265.38V616.16H271.66V616.44H271.89V618.08H272.11V619.72H272.34V621.36H272.56V622.99H272.79V624.63H273.02V626.27H278.56V626.41H279.79V627.96H281.02V629.50H281.76V631.14H282.50V632.78H283.24V634.41H301.09V634.41H301.27V635.82H301.46V637.22H311.43V637.22H311.52V638.91H311.62V640.59H311.71V642.28H311.80V643.96" fill="none" stroke="#ff3ca0" stroke-width="1.2"/>
<text x="214.00" y="637.83" font-size="6.2" text-anchor="start" font-weight="normal" font-style="normal" fill="#222" stroke="#222" stroke-width="0.2" ><tspan font-style="italic">P</tspan> =0.14</text>
<text x="173.20" y="596.68" font-size="6.5" text-anchor="middle" fill="#222" stroke="#222" stroke-width="0.2" transform="rotate(-90 173.20 594.40)">Probability of survival</text>
<text x="252.70" y="682.67" font-size="6.6" text-anchor="middle" font-weight="normal" font-style="normal" fill="#222" stroke="#222" stroke-width="0.2" >Survival since diagnosis (months)</text>
<rect x="199.10" y="496.90" width="124.60" height="31.90" rx="0" fill="#fff" stroke="#474c52" stroke-width="1.0"/>
<text x="320.50" y="504.80" font-size="6.1" text-anchor="end" font-weight="bold" font-style="normal" fill="#111" stroke="#111" stroke-width="0.2" >Median OS</text>
<line x1="201.20" y1="514.80" x2="207.50" y2="514.80" stroke="#9a9a9a" stroke-width="1"/>
<line x1="204.35" y1="513.80" x2="204.35" y2="515.30" stroke="#9a9a9a" stroke-width="0.8"/>
<text x="211.50" y="516.30" font-size="6.1" text-anchor="start" font-weight="bold" font-style="normal" fill="#111" stroke="#111" stroke-width="0.2" ><tspan font-style="italic">De novo</tspan> MDS- no AIRD (n=336)</text>
<text x="320.50" y="516.30" font-size="6.1" text-anchor="end" font-weight="normal" font-style="normal" fill="#222" stroke="#222" stroke-width="0.2" >42.9</text>
<line x1="201.20" y1="525.90" x2="207.50" y2="525.90" stroke="#ff46a3" stroke-width="1"/>
<line x1="204.35" y1="524.90" x2="204.35" y2="526.40" stroke="#ff46a3" stroke-width="0.8"/>
<text x="211.50" y="527.40" font-size="6.1" text-anchor="start" font-weight="bold" font-style="normal" fill="#111" stroke="#111" stroke-width="0.2" >MDS- AIRD (n=82)</text>
<text x="320.50" y="527.40" font-size="6.1" text-anchor="end" font-weight="normal" font-style="normal" fill="#222" stroke="#222" stroke-width="0.2" >33.4</text>
<text x="522.60" y="508.87" font-size="9.5" text-anchor="start" font-weight="bold" font-style="normal" fill="#000" stroke="#000" stroke-width="0.2" >J</text>
<line x1="547.00" y1="525.60" x2="547.00" y2="665.40" stroke="#222" stroke-width="1.0"/>
<line x1="544.60" y1="665.40" x2="547.00" y2="665.40" stroke="#222" stroke-width="0.9"/>
<text x="543.60" y="667.36" font-size="5.7" text-anchor="end" font-weight="normal" font-style="normal" fill="#222" stroke="#222" stroke-width="0.2" >0</text>
<line x1="544.60" y1="637.44" x2="547.00" y2="637.44" stroke="#222" stroke-width="0.9"/>
<text x="543.60" y="639.40" font-size="5.7" text-anchor="end" font-weight="normal" font-style="normal" fill="#222" stroke="#222" stroke-width="0.2" >20</text>
<line x1="544.60" y1="609.48" x2="547.00" y2="609.48" stroke="#222" stroke-width="0.9"/>
<text x="543.60" y="611.44" font-size="5.7" text-anchor="end" font-weight="normal" font-style="normal" fill="#222" stroke="#222" stroke-width="0.2" >40</text>
<line x1="544.60" y1="581.52" x2="547.00" y2="581.52" stroke="#222" stroke-width="0.9"/>
<text x="543.60" y="583.48" font-size="5.7" text-anchor="end" font-weight="normal" font-style="normal" fill="#222" stroke="#222" stroke-width="0.2" >60</text>
<line x1="544.60" y1="553.56" x2="547.00" y2="553.56" stroke="#222" stroke-width="0.9"/>
<text x="543.60" y="555.52" font-size="5.7" text-anchor="end" font-weight="normal" font-style="normal" fill="#222" stroke="#222" stroke-width="0.2" >80</text>
<line x1="544.60" y1="525.60" x2="547.00" y2="525.60" stroke="#222" stroke-width="0.9"/>
<text x="543.60" y="527.56" font-size="5.7" text-anchor="end" font-weight="normal" font-style="normal" fill="#222" stroke="#222" stroke-width="0.2" >100</text>
<line x1="547.00" y1="665.40" x2="666.00" y2="665.40" stroke="#222" stroke-width="1.0"/>
<line x1="547.00" y1="665.40" x2="547.00" y2="667.80" stroke="#222" stroke-width="0.9"/>
<text x="547.00" y="674.73" font-size="5.9" text-anchor="middle" font-weight="normal" font-style="normal" fill="#222" stroke="#222" stroke-width="0.2" >0</text>
<line x1="576.75" y1="665.40" x2="576.75" y2="667.80" stroke="#222" stroke-width="0.9"/>
<text x="576.75" y="674.73" font-size="5.9" text-anchor="middle" font-weight="normal" font-style="normal" fill="#222" stroke="#222" stroke-width="0.2" >24</text>
<line x1="606.50" y1="665.40" x2="606.50" y2="667.80" stroke="#222" stroke-width="0.9"/>
<text x="606.50" y="674.73" font-size="5.9" text-anchor="middle" font-weight="normal" font-style="normal" fill="#222" stroke="#222" stroke-width="0.2" >48</text>
<line x1="636.25" y1="665.40" x2="636.25" y2="667.80" stroke="#222" stroke-width="0.9"/>
<text x="636.25" y="674.73" font-size="5.9" text-anchor="middle" font-weight="normal" font-style="normal" fill="#222" stroke="#222" stroke-width="0.2" >72</text>
<line x1="666.00" y1="665.40" x2="666.00" y2="667.80" stroke="#222" stroke-width="0.9"/>
<text x="666.00" y="674.73" font-size="5.9" text-anchor="middle" font-weight="normal" font-style="normal" fill="#222" stroke="#222" stroke-width="0.2" >96</text>
<path d="M547.00,525.60H547.62V525.88H547.96V526.72H548.30V527.56H548.64V528.40H548.98V529.23H549.32V530.07H549.67V530.91H550.01V531.75H550.35V532.59H550.56V533.45H550.78V534.31H551.00V535.18H551.21V536.04H551.43V536.90H551.65V537.76H551.87V538.62H552.08V539.49H552.30V540.35H552.52V541.21H552.73V542.07H552.95V542.94H553.15V543.75H553.35V544.57H553.55V545.39H553.75V546.20H553.95V547.02H554.15V547.84H554.35V548.66H554.55V549.47H554.75V550.29H554.95V551.11H555.15V551.93H555.35V552.74H555.55V553.56H555.77V554.43H555.99V555.31H556.20V556.18H556.42V557.06H556.64V557.93H556.85V558.80H557.07V559.68H557.29V560.55H557.51V561.42H557.72V562.30H557.94V563.17H558.16V564.05H558.37V564.92H558.59V565.79H558.81V566.67H559.02V567.54H559.24V568.41H559.46V569.29H559.67V570.16H559.89V571.03H560.11V571.91H560.33V572.78H560.54V573.66H560.76V574.53H561.00V575.41H561.23V576.28H561.47V577.16H561.71V578.04H561.94V578.91H562.18V579.79H562.42V580.67H562.65V581.55H562.89V582.42H563.13V583.30H563.36V584.18H563.60V584.98H563.84V585.78H564.07V586.58H564.31V587.38H564.55V588.18H564.78V588.98H565.02V589.78H565.26V590.58H565.49V591.38H565.73V592.18H565.97V592.98H566.48V593.86H566.99V594.74H567.51V595.62H568.02V596.50H568.53V597.38H569.05V598.26H569.56V599.13H570.18V599.99H570.80V600.85H571.42V601.71H572.04V602.57H572.66V603.43H573.28V604.29H573.90V605.15H574.25V605.94H574.59V606.74H574.94V607.54H575.29V608.33H575.63V609.13H575.98V609.93H576.33V610.72H576.68V611.52H577.02V612.32H577.37V613.11H577.76V613.98H578.14V614.85H578.53V615.72H578.91V616.59H579.30V617.46H579.68V618.33H580.07V619.20H580.45V620.07H580.84V620.94H582.33V621.83H583.82V622.71H585.30V623.60H586.60V624.47H587.91V625.35H589.21V626.22H590.51V627.09H591.58V627.99H592.64V628.88H593.71V629.78H594.77V630.67H595.84V631.57H597.62V632.41H599.39V633.25H601.17V634.08H601.83V634.83H602.49V635.58H603.15V636.32H604.70V637.09H606.25V637.86H610.34V637.86H611.40V638.91H612.45V639.96H613.94V640.60H615.42V641.24H616.91V641.89H618.40V642.53H619.89V643.17H625.09V643.31H626.83V643.64H628.56V643.96H630.30V644.29H631.88V644.88H633.46V645.48H635.04V646.07H636.62V646.67H637.12V647.51H637.61V648.34H639.08V648.65H640.54V648.96H642.00V649.27H643.46V649.57H644.93V649.88H663.64V649.60H664.17V650.34H664.70V651.07H665.23V651.80H665.75V652.54" fill="none" stroke="#45a8b5" stroke-width="1.3"/>
<path d="M547.00,525.60H548.49V526.44H549.98V527.28H550.64V529.23H551.30V531.19H551.96V533.15H552.87V534.69H553.78V536.22H554.69V537.76H555.31V539.72H555.92V541.68H556.92V543.35H557.91V545.03H558.25V546.95H558.59V548.88H558.93V550.80H559.27V552.72H560.14V554.26H561.01V555.80H561.88V557.33H562.37V558.98H562.87V560.62H563.36V562.26H563.86V563.91H565.22V565.86H566.59V567.82H567.89V569.78H569.19V571.73H570.49V573.69H571.79V575.65H573.16V577.68H574.52V579.70H575.59V581.43H576.67V583.15H577.74V584.88H578.86V586.83H579.97V588.79H581.09V590.75H582.76V592.35H584.44V593.96H586.05V594.31H587.66V594.66H588.96V596.62H590.26V598.58H591.62V600.53H592.99V602.49H594.63V602.66H596.27V602.84H597.92V603.01H599.56V603.19H601.05V604.87H605.26V605.29H606.00V607.17H606.75V609.06H613.07V609.48H614.06V611.86H617.16V612.14H617.86V613.81H618.57V615.49H619.27V617.17H625.59V617.45H625.82V619.08H626.04V620.71H626.27V622.34H626.50V623.97H626.73V625.60H626.95V627.23H632.53V627.37H633.77V628.91H635.01V630.45H635.75V632.08H636.50V633.71H637.24V635.34H655.22V635.34H655.40V636.74H655.59V638.14H665.63V638.14H665.72V639.82H665.81V641.49H665.91V643.17H666.00V644.85" fill="none" stroke="#ff3ca0" stroke-width="1.2"/>
<text x="558.40" y="637.73" font-size="6.2" text-anchor="start" font-weight="normal" font-style="normal" fill="#222" stroke="#222" stroke-width="0.2" ><tspan font-style="italic">P</tspan> =0.001</text>
<text x="526.60" y="597.77" font-size="6.5" text-anchor="middle" fill="#222" stroke="#222" stroke-width="0.2" transform="rotate(-90 526.60 595.50)">Probability of survival</text>
<text x="606.50" y="683.47" font-size="6.6" text-anchor="middle" font-weight="normal" font-style="normal" fill="#222" stroke="#222" stroke-width="0.2" >Survival since diagnosis (months)</text>
<rect x="553.00" y="496.70" width="115.00" height="32.00" rx="0" fill="#fff" stroke="#474c52" stroke-width="1.0"/>
<text x="664.40" y="505.70" font-size="6.1" text-anchor="end" font-weight="bold" font-style="normal" fill="#111" stroke="#111" stroke-width="0.2" >Median OS</text>
<line x1="556.30" y1="515.20" x2="563.30" y2="515.20" stroke="#45a8b5" stroke-width="1"/>
<line x1="559.80" y1="514.20" x2="559.80" y2="515.70" stroke="#45a8b5" stroke-width="0.8"/>
<text x="567.40" y="516.70" font-size="6.1" text-anchor="start" font-weight="bold" font-style="normal" fill="#111" stroke="#111" stroke-width="0.2" >t-MDS- no AIRD <tspan font-weight="normal">(n=443)</tspan></text>
<text x="664.40" y="516.70" font-size="6.1" text-anchor="end" font-weight="normal" font-style="normal" fill="#222" stroke="#222" stroke-width="0.2" >16.09</text>
<line x1="556.30" y1="526.00" x2="563.30" y2="526.00" stroke="#ff46a3" stroke-width="1"/>
<line x1="559.80" y1="525.00" x2="559.80" y2="526.50" stroke="#ff46a3" stroke-width="0.8"/>
<text x="567.40" y="527.50" font-size="6.1" text-anchor="start" font-weight="bold" font-style="normal" fill="#111" stroke="#111" stroke-width="0.2" >MDS- AIRD (n= <tspan font-weight="normal">82)</tspan></text>
<text x="664.40" y="527.50" font-size="6.1" text-anchor="end" font-weight="normal" font-style="normal" fill="#222" stroke="#222" stroke-width="0.2" >33.43</text>
</svg>
</body></html>
